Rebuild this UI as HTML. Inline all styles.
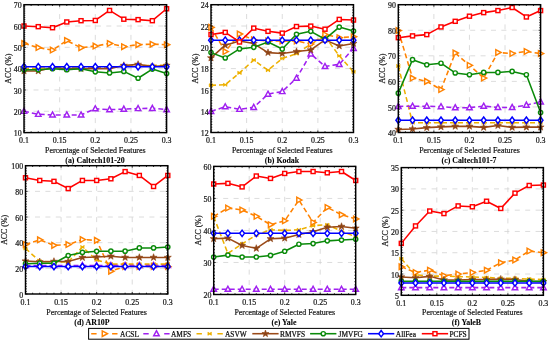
<!DOCTYPE html>
<html><head><meta charset="utf-8"><style>
html,body{margin:0;padding:0;background:#fff;width:550px;height:343px;overflow:hidden;}
svg{display:block;font-family:"Liberation Serif",serif;} text{stroke:#1a1a1a;stroke-width:0.22px;}
</style></head><body><div style="will-change:transform;width:550px;height:343px;filter:blur(0.3px)"><svg width="550" height="343" viewBox="0 0 550 343"><rect width="550" height="343" fill="#fff"/><g><line x1="59.65" y1="132.60" x2="59.65" y2="4.70" stroke="#d0d0d0" stroke-width="0.75" stroke-dasharray="5,5.4" stroke-dashoffset="0.9"/><line x1="95.30" y1="132.60" x2="95.30" y2="4.70" stroke="#d0d0d0" stroke-width="0.75" stroke-dasharray="5,5.4" stroke-dashoffset="0.9"/><line x1="130.95" y1="132.60" x2="130.95" y2="4.70" stroke="#d0d0d0" stroke-width="0.75" stroke-dasharray="5,5.4" stroke-dashoffset="0.9"/><line x1="24.00" y1="111.28" x2="166.60" y2="111.28" stroke="#d0d0d0" stroke-width="0.75" stroke-dasharray="5,5.4" stroke-dashoffset="0.9"/><line x1="24.00" y1="89.97" x2="166.60" y2="89.97" stroke="#d0d0d0" stroke-width="0.75" stroke-dasharray="5,5.4" stroke-dashoffset="0.9"/><line x1="24.00" y1="68.65" x2="166.60" y2="68.65" stroke="#d0d0d0" stroke-width="0.75" stroke-dasharray="5,5.4" stroke-dashoffset="0.9"/><line x1="24.00" y1="47.33" x2="166.60" y2="47.33" stroke="#d0d0d0" stroke-width="0.75" stroke-dasharray="5,5.4" stroke-dashoffset="0.9"/><line x1="24.00" y1="26.02" x2="166.60" y2="26.02" stroke="#d0d0d0" stroke-width="0.75" stroke-dasharray="5,5.4" stroke-dashoffset="0.9"/><polyline points="24.00,68.22 38.26,68.22 52.52,67.58 66.78,67.58 81.04,67.58 95.30,67.37 109.56,67.37 123.82,66.09 138.08,65.45 152.34,65.45 166.60,65.24" fill="none" stroke="#edb000" stroke-width="1.55" stroke-dasharray="5,3" stroke-linejoin="round"/><path d="M22.00,66.62L26.00,69.82M22.00,69.82L26.00,66.62M21.80,68.22L26.20,68.22" stroke="#edb000" stroke-width="1.1" fill="none"/><path d="M36.26,66.62L40.26,69.82M36.26,69.82L40.26,66.62M36.06,68.22L40.46,68.22" stroke="#edb000" stroke-width="1.1" fill="none"/><path d="M50.52,65.98L54.52,69.18M50.52,69.18L54.52,65.98M50.32,67.58L54.72,67.58" stroke="#edb000" stroke-width="1.1" fill="none"/><path d="M64.78,65.98L68.78,69.18M64.78,69.18L68.78,65.98M64.58,67.58L68.98,67.58" stroke="#edb000" stroke-width="1.1" fill="none"/><path d="M79.04,65.98L83.04,69.18M79.04,69.18L83.04,65.98M78.84,67.58L83.24,67.58" stroke="#edb000" stroke-width="1.1" fill="none"/><path d="M93.30,65.77L97.30,68.97M93.30,68.97L97.30,65.77M93.10,67.37L97.50,67.37" stroke="#edb000" stroke-width="1.1" fill="none"/><path d="M107.56,65.77L111.56,68.97M107.56,68.97L111.56,65.77M107.36,67.37L111.76,67.37" stroke="#edb000" stroke-width="1.1" fill="none"/><path d="M121.82,64.49L125.82,67.69M121.82,67.69L125.82,64.49M121.62,66.09L126.02,66.09" stroke="#edb000" stroke-width="1.1" fill="none"/><path d="M136.08,63.85L140.08,67.05M136.08,67.05L140.08,63.85M135.88,65.45L140.28,65.45" stroke="#edb000" stroke-width="1.1" fill="none"/><path d="M150.34,63.85L154.34,67.05M150.34,67.05L154.34,63.85M150.14,65.45L154.54,65.45" stroke="#edb000" stroke-width="1.1" fill="none"/><path d="M164.60,63.64L168.60,66.84M164.60,66.84L168.60,63.64M164.40,65.24L168.80,65.24" stroke="#edb000" stroke-width="1.1" fill="none"/><polyline points="24.00,111.28 38.26,114.27 52.52,114.91 66.78,114.91 81.04,114.91 95.30,108.73 109.56,109.58 123.82,109.15 138.08,108.51 152.34,108.30 166.60,109.58" fill="none" stroke="#a020f0" stroke-width="1.55" stroke-dasharray="5,3" stroke-linejoin="round"/><path d="M24.00,108.28L26.75,113.38L21.25,113.38Z" fill="#fff" stroke="#a020f0" stroke-width="1.45" stroke-linejoin="miter"/><path d="M38.26,111.27L41.01,116.37L35.51,116.37Z" fill="#fff" stroke="#a020f0" stroke-width="1.45" stroke-linejoin="miter"/><path d="M52.52,111.91L55.27,117.01L49.77,117.01Z" fill="#fff" stroke="#a020f0" stroke-width="1.45" stroke-linejoin="miter"/><path d="M66.78,111.91L69.53,117.01L64.03,117.01Z" fill="#fff" stroke="#a020f0" stroke-width="1.45" stroke-linejoin="miter"/><path d="M81.04,111.91L83.79,117.01L78.29,117.01Z" fill="#fff" stroke="#a020f0" stroke-width="1.45" stroke-linejoin="miter"/><path d="M95.30,105.73L98.05,110.83L92.55,110.83Z" fill="#fff" stroke="#a020f0" stroke-width="1.45" stroke-linejoin="miter"/><path d="M109.56,106.58L112.31,111.68L106.81,111.68Z" fill="#fff" stroke="#a020f0" stroke-width="1.45" stroke-linejoin="miter"/><path d="M123.82,106.15L126.57,111.25L121.07,111.25Z" fill="#fff" stroke="#a020f0" stroke-width="1.45" stroke-linejoin="miter"/><path d="M138.08,105.51L140.83,110.61L135.33,110.61Z" fill="#fff" stroke="#a020f0" stroke-width="1.45" stroke-linejoin="miter"/><path d="M152.34,105.30L155.09,110.40L149.59,110.40Z" fill="#fff" stroke="#a020f0" stroke-width="1.45" stroke-linejoin="miter"/><path d="M166.60,106.58L169.35,111.68L163.85,111.68Z" fill="#fff" stroke="#a020f0" stroke-width="1.45" stroke-linejoin="miter"/><polyline points="24.00,43.50 38.26,47.55 52.52,50.10 66.78,40.51 81.04,47.76 95.30,46.05 109.56,43.50 123.82,46.69 138.08,44.67 152.34,44.14 166.60,44.67" fill="none" stroke="#ff8200" stroke-width="1.55" stroke-dasharray="5,3" stroke-linejoin="round"/><path d="M27.10,43.50L21.90,40.70L21.90,46.30Z" fill="#fff" stroke="#ff8200" stroke-width="1.45"/><path d="M41.36,47.55L36.16,44.75L36.16,50.35Z" fill="#fff" stroke="#ff8200" stroke-width="1.45"/><path d="M55.62,50.10L50.42,47.30L50.42,52.90Z" fill="#fff" stroke="#ff8200" stroke-width="1.45"/><path d="M69.88,40.51L64.68,37.71L64.68,43.31Z" fill="#fff" stroke="#ff8200" stroke-width="1.45"/><path d="M84.14,47.76L78.94,44.96L78.94,50.56Z" fill="#fff" stroke="#ff8200" stroke-width="1.45"/><path d="M98.40,46.05L93.20,43.25L93.20,48.85Z" fill="#fff" stroke="#ff8200" stroke-width="1.45"/><path d="M112.66,43.50L107.46,40.70L107.46,46.30Z" fill="#fff" stroke="#ff8200" stroke-width="1.45"/><path d="M126.92,46.69L121.72,43.89L121.72,49.49Z" fill="#fff" stroke="#ff8200" stroke-width="1.45"/><path d="M141.18,44.67L135.98,41.87L135.98,47.47Z" fill="#fff" stroke="#ff8200" stroke-width="1.45"/><path d="M155.44,44.14L150.24,41.34L150.24,46.94Z" fill="#fff" stroke="#ff8200" stroke-width="1.45"/><path d="M169.70,44.67L164.50,41.87L164.50,47.47Z" fill="#fff" stroke="#ff8200" stroke-width="1.45"/><polyline points="24.00,70.99 38.26,70.99 52.52,67.58 66.78,68.65 81.04,68.65 95.30,68.65 109.56,68.65 123.82,65.45 138.08,64.39 152.34,66.52 166.60,65.45" fill="none" stroke="#9a4a18" stroke-width="1.55" stroke-linejoin="round"/><path d="M24.00,67.29L24.88,69.78L27.52,69.85L25.43,71.46L26.17,73.99L24.00,72.49L21.83,73.99L22.57,71.46L20.48,69.85L23.12,69.78Z" fill="#8e4416" stroke="#8e4416" stroke-width="0.6"/><path d="M38.26,67.29L39.14,69.78L41.78,69.85L39.69,71.46L40.43,73.99L38.26,72.49L36.09,73.99L36.83,71.46L34.74,69.85L37.38,69.78Z" fill="#8e4416" stroke="#8e4416" stroke-width="0.6"/><path d="M52.52,63.88L53.40,66.37L56.04,66.44L53.95,68.05L54.69,70.58L52.52,69.08L50.35,70.58L51.09,68.05L49.00,66.44L51.64,66.37Z" fill="#8e4416" stroke="#8e4416" stroke-width="0.6"/><path d="M66.78,64.95L67.66,67.44L70.30,67.51L68.21,69.11L68.95,71.64L66.78,70.15L64.61,71.64L65.35,69.11L63.26,67.51L65.90,67.44Z" fill="#8e4416" stroke="#8e4416" stroke-width="0.6"/><path d="M81.04,64.95L81.92,67.44L84.56,67.51L82.47,69.11L83.21,71.64L81.04,70.15L78.87,71.64L79.61,69.11L77.52,67.51L80.16,67.44Z" fill="#8e4416" stroke="#8e4416" stroke-width="0.6"/><path d="M95.30,64.95L96.18,67.44L98.82,67.51L96.73,69.11L97.47,71.64L95.30,70.15L93.13,71.64L93.87,69.11L91.78,67.51L94.42,67.44Z" fill="#8e4416" stroke="#8e4416" stroke-width="0.6"/><path d="M109.56,64.95L110.44,67.44L113.08,67.51L110.99,69.11L111.73,71.64L109.56,70.15L107.39,71.64L108.13,69.11L106.04,67.51L108.68,67.44Z" fill="#8e4416" stroke="#8e4416" stroke-width="0.6"/><path d="M123.82,61.75L124.70,64.24L127.34,64.31L125.25,65.92L125.99,68.45L123.82,66.95L121.65,68.45L122.39,65.92L120.30,64.31L122.94,64.24Z" fill="#8e4416" stroke="#8e4416" stroke-width="0.6"/><path d="M138.08,60.69L138.96,63.17L141.60,63.24L139.51,64.85L140.25,67.38L138.08,65.89L135.91,67.38L136.65,64.85L134.56,63.24L137.20,63.17Z" fill="#8e4416" stroke="#8e4416" stroke-width="0.6"/><path d="M152.34,62.82L153.22,65.30L155.86,65.37L153.77,66.98L154.51,69.51L152.34,68.02L150.17,69.51L150.91,66.98L148.82,65.37L151.46,65.30Z" fill="#8e4416" stroke="#8e4416" stroke-width="0.6"/><path d="M166.60,61.75L167.48,64.24L170.12,64.31L168.03,65.92L168.77,68.45L166.60,66.95L164.43,68.45L165.17,65.92L163.08,64.31L165.72,64.24Z" fill="#8e4416" stroke="#8e4416" stroke-width="0.6"/><polyline points="24.00,69.72 38.26,69.72 52.52,68.65 66.78,69.72 81.04,68.65 95.30,71.85 109.56,72.91 123.82,71.42 138.08,78.24 152.34,69.08 166.60,73.55" fill="none" stroke="#0a8a0a" stroke-width="1.55" stroke-linejoin="round"/><circle cx="24.00" cy="69.72" r="2.1" fill="#fff" stroke="#0a8a0a" stroke-width="1.45"/><circle cx="38.26" cy="69.72" r="2.1" fill="#fff" stroke="#0a8a0a" stroke-width="1.45"/><circle cx="52.52" cy="68.65" r="2.1" fill="#fff" stroke="#0a8a0a" stroke-width="1.45"/><circle cx="66.78" cy="69.72" r="2.1" fill="#fff" stroke="#0a8a0a" stroke-width="1.45"/><circle cx="81.04" cy="68.65" r="2.1" fill="#fff" stroke="#0a8a0a" stroke-width="1.45"/><circle cx="95.30" cy="71.85" r="2.1" fill="#fff" stroke="#0a8a0a" stroke-width="1.45"/><circle cx="109.56" cy="72.91" r="2.1" fill="#fff" stroke="#0a8a0a" stroke-width="1.45"/><circle cx="123.82" cy="71.42" r="2.1" fill="#fff" stroke="#0a8a0a" stroke-width="1.45"/><circle cx="138.08" cy="78.24" r="2.1" fill="#fff" stroke="#0a8a0a" stroke-width="1.45"/><circle cx="152.34" cy="69.08" r="2.1" fill="#fff" stroke="#0a8a0a" stroke-width="1.45"/><circle cx="166.60" cy="73.55" r="2.1" fill="#fff" stroke="#0a8a0a" stroke-width="1.45"/><polyline points="24.00,66.73 38.26,66.73 52.52,66.73 66.78,66.73 81.04,66.73 95.30,66.73 109.56,66.73 123.82,66.73 138.08,66.73 152.34,66.73 166.60,66.73" fill="none" stroke="#0000ff" stroke-width="1.55" stroke-linejoin="round"/><path d="M24.00,63.53L26.40,66.73L24.00,69.93L21.60,66.73Z" fill="#fff" stroke="#0000ff" stroke-width="1.45"/><path d="M38.26,63.53L40.66,66.73L38.26,69.93L35.86,66.73Z" fill="#fff" stroke="#0000ff" stroke-width="1.45"/><path d="M52.52,63.53L54.92,66.73L52.52,69.93L50.12,66.73Z" fill="#fff" stroke="#0000ff" stroke-width="1.45"/><path d="M66.78,63.53L69.18,66.73L66.78,69.93L64.38,66.73Z" fill="#fff" stroke="#0000ff" stroke-width="1.45"/><path d="M81.04,63.53L83.44,66.73L81.04,69.93L78.64,66.73Z" fill="#fff" stroke="#0000ff" stroke-width="1.45"/><path d="M95.30,63.53L97.70,66.73L95.30,69.93L92.90,66.73Z" fill="#fff" stroke="#0000ff" stroke-width="1.45"/><path d="M109.56,63.53L111.96,66.73L109.56,69.93L107.16,66.73Z" fill="#fff" stroke="#0000ff" stroke-width="1.45"/><path d="M123.82,63.53L126.22,66.73L123.82,69.93L121.42,66.73Z" fill="#fff" stroke="#0000ff" stroke-width="1.45"/><path d="M138.08,63.53L140.48,66.73L138.08,69.93L135.68,66.73Z" fill="#fff" stroke="#0000ff" stroke-width="1.45"/><path d="M152.34,63.53L154.74,66.73L152.34,69.93L149.94,66.73Z" fill="#fff" stroke="#0000ff" stroke-width="1.45"/><path d="M166.60,63.53L169.00,66.73L166.60,69.93L164.20,66.73Z" fill="#fff" stroke="#0000ff" stroke-width="1.45"/><polyline points="24.00,26.02 38.26,26.66 52.52,27.72 66.78,21.97 81.04,20.69 95.30,20.47 109.56,10.46 123.82,19.20 138.08,19.62 152.34,20.69 166.60,8.75" fill="none" stroke="#ff0000" stroke-width="1.55" stroke-linejoin="round"/><rect x="22.00" y="24.02" width="4.00" height="4.00" fill="#fff" stroke="#ff0000" stroke-width="1.45"/><rect x="36.26" y="24.66" width="4.00" height="4.00" fill="#fff" stroke="#ff0000" stroke-width="1.45"/><rect x="50.52" y="25.72" width="4.00" height="4.00" fill="#fff" stroke="#ff0000" stroke-width="1.45"/><rect x="64.78" y="19.97" width="4.00" height="4.00" fill="#fff" stroke="#ff0000" stroke-width="1.45"/><rect x="79.04" y="18.69" width="4.00" height="4.00" fill="#fff" stroke="#ff0000" stroke-width="1.45"/><rect x="93.30" y="18.47" width="4.00" height="4.00" fill="#fff" stroke="#ff0000" stroke-width="1.45"/><rect x="107.56" y="8.46" width="4.00" height="4.00" fill="#fff" stroke="#ff0000" stroke-width="1.45"/><rect x="121.82" y="17.20" width="4.00" height="4.00" fill="#fff" stroke="#ff0000" stroke-width="1.45"/><rect x="136.08" y="17.62" width="4.00" height="4.00" fill="#fff" stroke="#ff0000" stroke-width="1.45"/><rect x="150.34" y="18.69" width="4.00" height="4.00" fill="#fff" stroke="#ff0000" stroke-width="1.45"/><rect x="164.60" y="6.75" width="4.00" height="4.00" fill="#fff" stroke="#ff0000" stroke-width="1.45"/><rect x="24.00" y="4.70" width="142.60" height="127.90" fill="none" stroke="#000" stroke-width="1.45"/><path d="M24.00,132.60v-2.0M24.00,4.70v2.0M31.13,132.60v-1.3M31.13,4.70v1.3M38.26,132.60v-1.3M38.26,4.70v1.3M45.39,132.60v-1.3M45.39,4.70v1.3M52.52,132.60v-1.3M52.52,4.70v1.3M59.65,132.60v-2.0M59.65,4.70v2.0M66.78,132.60v-1.3M66.78,4.70v1.3M73.91,132.60v-1.3M73.91,4.70v1.3M81.04,132.60v-1.3M81.04,4.70v1.3M88.17,132.60v-1.3M88.17,4.70v1.3M95.30,132.60v-2.0M95.30,4.70v2.0M102.43,132.60v-1.3M102.43,4.70v1.3M109.56,132.60v-1.3M109.56,4.70v1.3M116.69,132.60v-1.3M116.69,4.70v1.3M123.82,132.60v-1.3M123.82,4.70v1.3M130.95,132.60v-2.0M130.95,4.70v2.0M138.08,132.60v-1.3M138.08,4.70v1.3M145.21,132.60v-1.3M145.21,4.70v1.3M152.34,132.60v-1.3M152.34,4.70v1.3M159.47,132.60v-1.3M159.47,4.70v1.3M166.60,132.60v-2.0M166.60,4.70v2.0M24.00,132.60h2.0M166.60,132.60h-2.0M24.00,130.47h1.3M166.60,130.47h-1.3M24.00,128.34h1.3M166.60,128.34h-1.3M24.00,126.20h1.3M166.60,126.20h-1.3M24.00,124.07h1.3M166.60,124.07h-1.3M24.00,121.94h1.3M166.60,121.94h-1.3M24.00,119.81h1.3M166.60,119.81h-1.3M24.00,117.68h1.3M166.60,117.68h-1.3M24.00,115.55h1.3M166.60,115.55h-1.3M24.00,113.41h1.3M166.60,113.41h-1.3M24.00,111.28h2.0M166.60,111.28h-2.0M24.00,109.15h1.3M166.60,109.15h-1.3M24.00,107.02h1.3M166.60,107.02h-1.3M24.00,104.89h1.3M166.60,104.89h-1.3M24.00,102.76h1.3M166.60,102.76h-1.3M24.00,100.62h1.3M166.60,100.62h-1.3M24.00,98.49h1.3M166.60,98.49h-1.3M24.00,96.36h1.3M166.60,96.36h-1.3M24.00,94.23h1.3M166.60,94.23h-1.3M24.00,92.10h1.3M166.60,92.10h-1.3M24.00,89.97h2.0M166.60,89.97h-2.0M24.00,87.84h1.3M166.60,87.84h-1.3M24.00,85.70h1.3M166.60,85.70h-1.3M24.00,83.57h1.3M166.60,83.57h-1.3M24.00,81.44h1.3M166.60,81.44h-1.3M24.00,79.31h1.3M166.60,79.31h-1.3M24.00,77.18h1.3M166.60,77.18h-1.3M24.00,75.05h1.3M166.60,75.05h-1.3M24.00,72.91h1.3M166.60,72.91h-1.3M24.00,70.78h1.3M166.60,70.78h-1.3M24.00,68.65h2.0M166.60,68.65h-2.0M24.00,66.52h1.3M166.60,66.52h-1.3M24.00,64.39h1.3M166.60,64.39h-1.3M24.00,62.25h1.3M166.60,62.25h-1.3M24.00,60.12h1.3M166.60,60.12h-1.3M24.00,57.99h1.3M166.60,57.99h-1.3M24.00,55.86h1.3M166.60,55.86h-1.3M24.00,53.73h1.3M166.60,53.73h-1.3M24.00,51.60h1.3M166.60,51.60h-1.3M24.00,49.47h1.3M166.60,49.47h-1.3M24.00,47.33h2.0M166.60,47.33h-2.0M24.00,45.20h1.3M166.60,45.20h-1.3M24.00,43.07h1.3M166.60,43.07h-1.3M24.00,40.94h1.3M166.60,40.94h-1.3M24.00,38.81h1.3M166.60,38.81h-1.3M24.00,36.67h1.3M166.60,36.67h-1.3M24.00,34.54h1.3M166.60,34.54h-1.3M24.00,32.41h1.3M166.60,32.41h-1.3M24.00,30.28h1.3M166.60,30.28h-1.3M24.00,28.15h1.3M166.60,28.15h-1.3M24.00,26.02h2.0M166.60,26.02h-2.0M24.00,23.89h1.3M166.60,23.89h-1.3M24.00,21.75h1.3M166.60,21.75h-1.3M24.00,19.62h1.3M166.60,19.62h-1.3M24.00,17.49h1.3M166.60,17.49h-1.3M24.00,15.36h1.3M166.60,15.36h-1.3M24.00,13.23h1.3M166.60,13.23h-1.3M24.00,11.10h1.3M166.60,11.10h-1.3M24.00,8.96h1.3M166.60,8.96h-1.3M24.00,6.83h1.3M166.60,6.83h-1.3M24.00,4.70h2.0M166.60,4.70h-2.0" stroke="#000" stroke-width="0.8" fill="none"/><text x="24.00" y="143.40" text-anchor="middle" font-size="7.9" fill="#1a1a1a" font-family="Liberation Serif, serif">0.1</text><text x="59.65" y="143.40" text-anchor="middle" font-size="7.9" fill="#1a1a1a" font-family="Liberation Serif, serif">0.15</text><text x="95.30" y="143.40" text-anchor="middle" font-size="7.9" fill="#1a1a1a" font-family="Liberation Serif, serif">0.2</text><text x="130.95" y="143.40" text-anchor="middle" font-size="7.9" fill="#1a1a1a" font-family="Liberation Serif, serif">0.25</text><text x="166.60" y="143.40" text-anchor="middle" font-size="7.9" fill="#1a1a1a" font-family="Liberation Serif, serif">0.3</text><text x="21.70" y="136.20" text-anchor="end" font-size="7.9" fill="#1a1a1a" font-family="Liberation Serif, serif">10</text><text x="21.70" y="114.88" text-anchor="end" font-size="7.9" fill="#1a1a1a" font-family="Liberation Serif, serif">20</text><text x="21.70" y="93.57" text-anchor="end" font-size="7.9" fill="#1a1a1a" font-family="Liberation Serif, serif">30</text><text x="21.70" y="72.25" text-anchor="end" font-size="7.9" fill="#1a1a1a" font-family="Liberation Serif, serif">40</text><text x="21.70" y="50.93" text-anchor="end" font-size="7.9" fill="#1a1a1a" font-family="Liberation Serif, serif">50</text><text x="21.70" y="29.62" text-anchor="end" font-size="7.9" fill="#1a1a1a" font-family="Liberation Serif, serif">60</text><text x="21.70" y="8.30" text-anchor="end" font-size="7.9" fill="#1a1a1a" font-family="Liberation Serif, serif">70</text><text x="95.30" y="153.00" text-anchor="middle" font-size="7.9" fill="#1a1a1a" font-family="Liberation Serif, serif">Percentage of Selected Features</text><text x="95.00" y="162.90" text-anchor="middle" font-size="7.9" font-weight="bold" fill="#000" style="stroke-width:0.08px" font-family="Liberation Serif, serif">(a) Caltech101-20</text><text transform="translate(11.00,68.65) rotate(-90)" text-anchor="middle" font-size="7.9" fill="#1a1a1a" font-family="Liberation Serif, serif">ACC (%)</text></g><g><line x1="246.62" y1="132.50" x2="246.62" y2="4.70" stroke="#d0d0d0" stroke-width="0.75" stroke-dasharray="5,5.4" stroke-dashoffset="0.9"/><line x1="282.25" y1="132.50" x2="282.25" y2="4.70" stroke="#d0d0d0" stroke-width="0.75" stroke-dasharray="5,5.4" stroke-dashoffset="0.9"/><line x1="317.88" y1="132.50" x2="317.88" y2="4.70" stroke="#d0d0d0" stroke-width="0.75" stroke-dasharray="5,5.4" stroke-dashoffset="0.9"/><line x1="211.00" y1="111.20" x2="353.50" y2="111.20" stroke="#d0d0d0" stroke-width="0.75" stroke-dasharray="5,5.4" stroke-dashoffset="0.9"/><line x1="211.00" y1="89.90" x2="353.50" y2="89.90" stroke="#d0d0d0" stroke-width="0.75" stroke-dasharray="5,5.4" stroke-dashoffset="0.9"/><line x1="211.00" y1="68.60" x2="353.50" y2="68.60" stroke="#d0d0d0" stroke-width="0.75" stroke-dasharray="5,5.4" stroke-dashoffset="0.9"/><line x1="211.00" y1="47.30" x2="353.50" y2="47.30" stroke="#d0d0d0" stroke-width="0.75" stroke-dasharray="5,5.4" stroke-dashoffset="0.9"/><line x1="211.00" y1="26.00" x2="353.50" y2="26.00" stroke="#d0d0d0" stroke-width="0.75" stroke-dasharray="5,5.4" stroke-dashoffset="0.9"/><polyline points="211.00,85.32 225.25,84.79 239.50,72.86 253.75,60.08 268.00,70.20 282.25,58.48 296.50,53.69 310.75,44.10 325.00,36.65 339.25,55.82 353.50,71.80" fill="none" stroke="#edb000" stroke-width="1.55" stroke-dasharray="5,3" stroke-linejoin="round"/><path d="M209.00,83.72L213.00,86.92M209.00,86.92L213.00,83.72M208.80,85.32L213.20,85.32" stroke="#edb000" stroke-width="1.1" fill="none"/><path d="M223.25,83.19L227.25,86.39M223.25,86.39L227.25,83.19M223.05,84.79L227.45,84.79" stroke="#edb000" stroke-width="1.1" fill="none"/><path d="M237.50,71.26L241.50,74.46M237.50,74.46L241.50,71.26M237.30,72.86L241.70,72.86" stroke="#edb000" stroke-width="1.1" fill="none"/><path d="M251.75,58.48L255.75,61.68M251.75,61.68L255.75,58.48M251.55,60.08L255.95,60.08" stroke="#edb000" stroke-width="1.1" fill="none"/><path d="M266.00,68.60L270.00,71.80M266.00,71.80L270.00,68.60M265.80,70.20L270.20,70.20" stroke="#edb000" stroke-width="1.1" fill="none"/><path d="M280.25,56.88L284.25,60.08M280.25,60.08L284.25,56.88M280.05,58.48L284.45,58.48" stroke="#edb000" stroke-width="1.1" fill="none"/><path d="M294.50,52.09L298.50,55.29M294.50,55.29L298.50,52.09M294.30,53.69L298.70,53.69" stroke="#edb000" stroke-width="1.1" fill="none"/><path d="M308.75,42.50L312.75,45.70M308.75,45.70L312.75,42.50M308.55,44.10L312.95,44.10" stroke="#edb000" stroke-width="1.1" fill="none"/><path d="M323.00,35.05L327.00,38.25M323.00,38.25L327.00,35.05M322.80,36.65L327.20,36.65" stroke="#edb000" stroke-width="1.1" fill="none"/><path d="M337.25,54.22L341.25,57.42M337.25,57.42L341.25,54.22M337.05,55.82L341.45,55.82" stroke="#edb000" stroke-width="1.1" fill="none"/><path d="M351.50,70.20L355.50,73.40M351.50,73.40L355.50,70.20M351.30,71.80L355.70,71.80" stroke="#edb000" stroke-width="1.1" fill="none"/><polyline points="211.00,111.41 225.25,106.73 239.50,109.28 253.75,107.37 268.00,94.16 282.25,91.50 296.50,78.18 310.75,53.90 325.00,66.47 339.25,64.34 353.50,48.37" fill="none" stroke="#a020f0" stroke-width="1.55" stroke-dasharray="5,3" stroke-linejoin="round"/><path d="M211.00,108.41L213.75,113.51L208.25,113.51Z" fill="#fff" stroke="#a020f0" stroke-width="1.45" stroke-linejoin="miter"/><path d="M225.25,103.73L228.00,108.83L222.50,108.83Z" fill="#fff" stroke="#a020f0" stroke-width="1.45" stroke-linejoin="miter"/><path d="M239.50,106.28L242.25,111.38L236.75,111.38Z" fill="#fff" stroke="#a020f0" stroke-width="1.45" stroke-linejoin="miter"/><path d="M253.75,104.37L256.50,109.47L251.00,109.47Z" fill="#fff" stroke="#a020f0" stroke-width="1.45" stroke-linejoin="miter"/><path d="M268.00,91.16L270.75,96.26L265.25,96.26Z" fill="#fff" stroke="#a020f0" stroke-width="1.45" stroke-linejoin="miter"/><path d="M282.25,88.50L285.00,93.60L279.50,93.60Z" fill="#fff" stroke="#a020f0" stroke-width="1.45" stroke-linejoin="miter"/><path d="M296.50,75.18L299.25,80.28L293.75,80.28Z" fill="#fff" stroke="#a020f0" stroke-width="1.45" stroke-linejoin="miter"/><path d="M310.75,50.90L313.50,56.00L308.00,56.00Z" fill="#fff" stroke="#a020f0" stroke-width="1.45" stroke-linejoin="miter"/><path d="M325.00,63.47L327.75,68.57L322.25,68.57Z" fill="#fff" stroke="#a020f0" stroke-width="1.45" stroke-linejoin="miter"/><path d="M339.25,61.34L342.00,66.44L336.50,66.44Z" fill="#fff" stroke="#a020f0" stroke-width="1.45" stroke-linejoin="miter"/><path d="M353.50,45.37L356.25,50.47L350.75,50.47Z" fill="#fff" stroke="#a020f0" stroke-width="1.45" stroke-linejoin="miter"/><polyline points="211.00,27.38 225.25,51.56 239.50,33.99 253.75,39.84 268.00,40.91 282.25,40.91 296.50,40.91 310.75,44.10 325.00,34.52 339.25,37.72 353.50,36.65" fill="none" stroke="#ff8200" stroke-width="1.55" stroke-dasharray="5,3" stroke-linejoin="round"/><path d="M214.10,27.38L208.90,24.58L208.90,30.18Z" fill="#fff" stroke="#ff8200" stroke-width="1.45"/><path d="M228.35,51.56L223.15,48.76L223.15,54.36Z" fill="#fff" stroke="#ff8200" stroke-width="1.45"/><path d="M242.60,33.99L237.40,31.19L237.40,36.79Z" fill="#fff" stroke="#ff8200" stroke-width="1.45"/><path d="M256.85,39.84L251.65,37.05L251.65,42.64Z" fill="#fff" stroke="#ff8200" stroke-width="1.45"/><path d="M271.10,40.91L265.90,38.11L265.90,43.71Z" fill="#fff" stroke="#ff8200" stroke-width="1.45"/><path d="M285.35,40.91L280.15,38.11L280.15,43.71Z" fill="#fff" stroke="#ff8200" stroke-width="1.45"/><path d="M299.60,40.91L294.40,38.11L294.40,43.71Z" fill="#fff" stroke="#ff8200" stroke-width="1.45"/><path d="M313.85,44.10L308.65,41.30L308.65,46.90Z" fill="#fff" stroke="#ff8200" stroke-width="1.45"/><path d="M328.10,34.52L322.90,31.72L322.90,37.32Z" fill="#fff" stroke="#ff8200" stroke-width="1.45"/><path d="M342.35,37.72L337.15,34.92L337.15,40.52Z" fill="#fff" stroke="#ff8200" stroke-width="1.45"/><path d="M356.60,36.65L351.40,33.85L351.40,39.45Z" fill="#fff" stroke="#ff8200" stroke-width="1.45"/><polyline points="211.00,57.95 225.25,45.17 239.50,40.91 253.75,43.57 268.00,52.62 282.25,53.48 296.50,51.56 310.75,49.96 325.00,39.84 339.25,45.92 353.50,43.47" fill="none" stroke="#9a4a18" stroke-width="1.55" stroke-linejoin="round"/><path d="M211.00,54.25L211.88,56.74L214.52,56.81L212.43,58.41L213.17,60.94L211.00,59.45L208.83,60.94L209.57,58.41L207.48,56.81L210.12,56.74Z" fill="#8e4416" stroke="#8e4416" stroke-width="0.6"/><path d="M225.25,41.47L226.13,43.96L228.77,44.03L226.68,45.63L227.42,48.16L225.25,46.67L223.08,48.16L223.82,45.63L221.73,44.03L224.37,43.96Z" fill="#8e4416" stroke="#8e4416" stroke-width="0.6"/><path d="M239.50,37.21L240.38,39.70L243.02,39.77L240.93,41.37L241.67,43.90L239.50,42.41L237.33,43.90L238.07,41.37L235.98,39.77L238.62,39.70Z" fill="#8e4416" stroke="#8e4416" stroke-width="0.6"/><path d="M253.75,39.87L254.63,42.36L257.27,42.43L255.18,44.04L255.92,46.57L253.75,45.07L251.58,46.57L252.32,44.04L250.23,42.43L252.87,42.36Z" fill="#8e4416" stroke="#8e4416" stroke-width="0.6"/><path d="M268.00,48.92L268.88,51.41L271.52,51.48L269.43,53.09L270.17,55.62L268.00,54.12L265.83,55.62L266.57,53.09L264.48,51.48L267.12,51.41Z" fill="#8e4416" stroke="#8e4416" stroke-width="0.6"/><path d="M282.25,49.78L283.13,52.26L285.77,52.33L283.68,53.94L284.42,56.47L282.25,54.98L280.08,56.47L280.82,53.94L278.73,52.33L281.37,52.26Z" fill="#8e4416" stroke="#8e4416" stroke-width="0.6"/><path d="M296.50,47.86L297.38,50.35L300.02,50.42L297.93,52.02L298.67,54.55L296.50,53.06L294.33,54.55L295.07,52.02L292.98,50.42L295.62,50.35Z" fill="#8e4416" stroke="#8e4416" stroke-width="0.6"/><path d="M310.75,46.26L311.63,48.75L314.27,48.82L312.18,50.43L312.92,52.96L310.75,51.46L308.58,52.96L309.32,50.43L307.23,48.82L309.87,48.75Z" fill="#8e4416" stroke="#8e4416" stroke-width="0.6"/><path d="M325.00,36.14L325.88,38.63L328.52,38.70L326.43,40.31L327.17,42.84L325.00,41.34L322.83,42.84L323.57,40.31L321.48,38.70L324.12,38.63Z" fill="#8e4416" stroke="#8e4416" stroke-width="0.6"/><path d="M339.25,42.22L340.13,44.70L342.77,44.77L340.68,46.38L341.42,48.91L339.25,47.42L337.08,48.91L337.82,46.38L335.73,44.77L338.37,44.70Z" fill="#8e4416" stroke="#8e4416" stroke-width="0.6"/><path d="M353.50,39.77L354.38,42.25L357.02,42.32L354.93,43.93L355.67,46.46L353.50,44.97L351.33,46.46L352.07,43.93L349.98,42.32L352.62,42.25Z" fill="#8e4416" stroke="#8e4416" stroke-width="0.6"/><polyline points="211.00,52.62 225.25,57.95 239.50,48.90 253.75,47.30 268.00,41.97 282.25,49.00 296.50,34.31 310.75,31.33 325.00,39.21 339.25,27.07 353.50,31.01" fill="none" stroke="#0a8a0a" stroke-width="1.55" stroke-linejoin="round"/><circle cx="211.00" cy="52.62" r="2.1" fill="#fff" stroke="#0a8a0a" stroke-width="1.45"/><circle cx="225.25" cy="57.95" r="2.1" fill="#fff" stroke="#0a8a0a" stroke-width="1.45"/><circle cx="239.50" cy="48.90" r="2.1" fill="#fff" stroke="#0a8a0a" stroke-width="1.45"/><circle cx="253.75" cy="47.30" r="2.1" fill="#fff" stroke="#0a8a0a" stroke-width="1.45"/><circle cx="268.00" cy="41.97" r="2.1" fill="#fff" stroke="#0a8a0a" stroke-width="1.45"/><circle cx="282.25" cy="49.00" r="2.1" fill="#fff" stroke="#0a8a0a" stroke-width="1.45"/><circle cx="296.50" cy="34.31" r="2.1" fill="#fff" stroke="#0a8a0a" stroke-width="1.45"/><circle cx="310.75" cy="31.33" r="2.1" fill="#fff" stroke="#0a8a0a" stroke-width="1.45"/><circle cx="325.00" cy="39.21" r="2.1" fill="#fff" stroke="#0a8a0a" stroke-width="1.45"/><circle cx="339.25" cy="27.07" r="2.1" fill="#fff" stroke="#0a8a0a" stroke-width="1.45"/><circle cx="353.50" cy="31.01" r="2.1" fill="#fff" stroke="#0a8a0a" stroke-width="1.45"/><polyline points="211.00,40.16 225.25,40.16 239.50,40.16 253.75,40.16 268.00,40.16 282.25,40.16 296.50,40.16 310.75,40.16 325.00,40.16 339.25,40.16 353.50,40.16" fill="none" stroke="#0000ff" stroke-width="1.55" stroke-linejoin="round"/><path d="M211.00,36.96L213.40,40.16L211.00,43.36L208.60,40.16Z" fill="#fff" stroke="#0000ff" stroke-width="1.45"/><path d="M225.25,36.96L227.65,40.16L225.25,43.36L222.85,40.16Z" fill="#fff" stroke="#0000ff" stroke-width="1.45"/><path d="M239.50,36.96L241.90,40.16L239.50,43.36L237.10,40.16Z" fill="#fff" stroke="#0000ff" stroke-width="1.45"/><path d="M253.75,36.96L256.15,40.16L253.75,43.36L251.35,40.16Z" fill="#fff" stroke="#0000ff" stroke-width="1.45"/><path d="M268.00,36.96L270.40,40.16L268.00,43.36L265.60,40.16Z" fill="#fff" stroke="#0000ff" stroke-width="1.45"/><path d="M282.25,36.96L284.65,40.16L282.25,43.36L279.85,40.16Z" fill="#fff" stroke="#0000ff" stroke-width="1.45"/><path d="M296.50,36.96L298.90,40.16L296.50,43.36L294.10,40.16Z" fill="#fff" stroke="#0000ff" stroke-width="1.45"/><path d="M310.75,36.96L313.15,40.16L310.75,43.36L308.35,40.16Z" fill="#fff" stroke="#0000ff" stroke-width="1.45"/><path d="M325.00,36.96L327.40,40.16L325.00,43.36L322.60,40.16Z" fill="#fff" stroke="#0000ff" stroke-width="1.45"/><path d="M339.25,36.96L341.65,40.16L339.25,43.36L336.85,40.16Z" fill="#fff" stroke="#0000ff" stroke-width="1.45"/><path d="M353.50,36.96L355.90,40.16L353.50,43.36L351.10,40.16Z" fill="#fff" stroke="#0000ff" stroke-width="1.45"/><polyline points="211.00,34.52 225.25,32.39 239.50,41.97 253.75,28.13 268.00,31.33 282.25,33.14 296.50,26.53 310.75,26.11 325.00,29.20 339.25,19.40 353.50,20.04" fill="none" stroke="#ff0000" stroke-width="1.55" stroke-linejoin="round"/><rect x="209.00" y="32.52" width="4.00" height="4.00" fill="#fff" stroke="#ff0000" stroke-width="1.45"/><rect x="223.25" y="30.39" width="4.00" height="4.00" fill="#fff" stroke="#ff0000" stroke-width="1.45"/><rect x="237.50" y="39.97" width="4.00" height="4.00" fill="#fff" stroke="#ff0000" stroke-width="1.45"/><rect x="251.75" y="26.13" width="4.00" height="4.00" fill="#fff" stroke="#ff0000" stroke-width="1.45"/><rect x="266.00" y="29.33" width="4.00" height="4.00" fill="#fff" stroke="#ff0000" stroke-width="1.45"/><rect x="280.25" y="31.14" width="4.00" height="4.00" fill="#fff" stroke="#ff0000" stroke-width="1.45"/><rect x="294.50" y="24.53" width="4.00" height="4.00" fill="#fff" stroke="#ff0000" stroke-width="1.45"/><rect x="308.75" y="24.11" width="4.00" height="4.00" fill="#fff" stroke="#ff0000" stroke-width="1.45"/><rect x="323.00" y="27.20" width="4.00" height="4.00" fill="#fff" stroke="#ff0000" stroke-width="1.45"/><rect x="337.25" y="17.40" width="4.00" height="4.00" fill="#fff" stroke="#ff0000" stroke-width="1.45"/><rect x="351.50" y="18.04" width="4.00" height="4.00" fill="#fff" stroke="#ff0000" stroke-width="1.45"/><rect x="211.00" y="4.70" width="142.50" height="127.80" fill="none" stroke="#000" stroke-width="1.45"/><path d="M211.00,132.50v-2.0M211.00,4.70v2.0M218.12,132.50v-1.3M218.12,4.70v1.3M225.25,132.50v-1.3M225.25,4.70v1.3M232.38,132.50v-1.3M232.38,4.70v1.3M239.50,132.50v-1.3M239.50,4.70v1.3M246.62,132.50v-2.0M246.62,4.70v2.0M253.75,132.50v-1.3M253.75,4.70v1.3M260.88,132.50v-1.3M260.88,4.70v1.3M268.00,132.50v-1.3M268.00,4.70v1.3M275.12,132.50v-1.3M275.12,4.70v1.3M282.25,132.50v-2.0M282.25,4.70v2.0M289.38,132.50v-1.3M289.38,4.70v1.3M296.50,132.50v-1.3M296.50,4.70v1.3M303.62,132.50v-1.3M303.62,4.70v1.3M310.75,132.50v-1.3M310.75,4.70v1.3M317.88,132.50v-2.0M317.88,4.70v2.0M325.00,132.50v-1.3M325.00,4.70v1.3M332.12,132.50v-1.3M332.12,4.70v1.3M339.25,132.50v-1.3M339.25,4.70v1.3M346.38,132.50v-1.3M346.38,4.70v1.3M353.50,132.50v-2.0M353.50,4.70v2.0M211.00,132.50h2.0M353.50,132.50h-2.0M211.00,129.84h1.3M353.50,129.84h-1.3M211.00,127.17h1.3M353.50,127.17h-1.3M211.00,124.51h1.3M353.50,124.51h-1.3M211.00,121.85h1.3M353.50,121.85h-1.3M211.00,119.19h1.3M353.50,119.19h-1.3M211.00,116.53h1.3M353.50,116.53h-1.3M211.00,113.86h1.3M353.50,113.86h-1.3M211.00,111.20h2.0M353.50,111.20h-2.0M211.00,108.54h1.3M353.50,108.54h-1.3M211.00,105.88h1.3M353.50,105.88h-1.3M211.00,103.21h1.3M353.50,103.21h-1.3M211.00,100.55h1.3M353.50,100.55h-1.3M211.00,97.89h1.3M353.50,97.89h-1.3M211.00,95.22h1.3M353.50,95.22h-1.3M211.00,92.56h1.3M353.50,92.56h-1.3M211.00,89.90h2.0M353.50,89.90h-2.0M211.00,87.24h1.3M353.50,87.24h-1.3M211.00,84.57h1.3M353.50,84.57h-1.3M211.00,81.91h1.3M353.50,81.91h-1.3M211.00,79.25h1.3M353.50,79.25h-1.3M211.00,76.59h1.3M353.50,76.59h-1.3M211.00,73.93h1.3M353.50,73.93h-1.3M211.00,71.26h1.3M353.50,71.26h-1.3M211.00,68.60h2.0M353.50,68.60h-2.0M211.00,65.94h1.3M353.50,65.94h-1.3M211.00,63.28h1.3M353.50,63.28h-1.3M211.00,60.61h1.3M353.50,60.61h-1.3M211.00,57.95h1.3M353.50,57.95h-1.3M211.00,55.29h1.3M353.50,55.29h-1.3M211.00,52.62h1.3M353.50,52.62h-1.3M211.00,49.96h1.3M353.50,49.96h-1.3M211.00,47.30h2.0M353.50,47.30h-2.0M211.00,44.64h1.3M353.50,44.64h-1.3M211.00,41.98h1.3M353.50,41.98h-1.3M211.00,39.31h1.3M353.50,39.31h-1.3M211.00,36.65h1.3M353.50,36.65h-1.3M211.00,33.99h1.3M353.50,33.99h-1.3M211.00,31.33h1.3M353.50,31.33h-1.3M211.00,28.66h1.3M353.50,28.66h-1.3M211.00,26.00h2.0M353.50,26.00h-2.0M211.00,23.34h1.3M353.50,23.34h-1.3M211.00,20.68h1.3M353.50,20.68h-1.3M211.00,18.01h1.3M353.50,18.01h-1.3M211.00,15.35h1.3M353.50,15.35h-1.3M211.00,12.69h1.3M353.50,12.69h-1.3M211.00,10.02h1.3M353.50,10.02h-1.3M211.00,7.36h1.3M353.50,7.36h-1.3M211.00,4.70h2.0M353.50,4.70h-2.0" stroke="#000" stroke-width="0.8" fill="none"/><text x="211.00" y="143.30" text-anchor="middle" font-size="7.9" fill="#1a1a1a" font-family="Liberation Serif, serif">0.1</text><text x="246.62" y="143.30" text-anchor="middle" font-size="7.9" fill="#1a1a1a" font-family="Liberation Serif, serif">0.15</text><text x="282.25" y="143.30" text-anchor="middle" font-size="7.9" fill="#1a1a1a" font-family="Liberation Serif, serif">0.2</text><text x="317.88" y="143.30" text-anchor="middle" font-size="7.9" fill="#1a1a1a" font-family="Liberation Serif, serif">0.25</text><text x="353.50" y="143.30" text-anchor="middle" font-size="7.9" fill="#1a1a1a" font-family="Liberation Serif, serif">0.3</text><text x="208.70" y="136.10" text-anchor="end" font-size="7.9" fill="#1a1a1a" font-family="Liberation Serif, serif">12</text><text x="208.70" y="114.80" text-anchor="end" font-size="7.9" fill="#1a1a1a" font-family="Liberation Serif, serif">14</text><text x="208.70" y="93.50" text-anchor="end" font-size="7.9" fill="#1a1a1a" font-family="Liberation Serif, serif">16</text><text x="208.70" y="72.20" text-anchor="end" font-size="7.9" fill="#1a1a1a" font-family="Liberation Serif, serif">18</text><text x="208.70" y="50.90" text-anchor="end" font-size="7.9" fill="#1a1a1a" font-family="Liberation Serif, serif">20</text><text x="208.70" y="29.60" text-anchor="end" font-size="7.9" fill="#1a1a1a" font-family="Liberation Serif, serif">22</text><text x="208.70" y="8.30" text-anchor="end" font-size="7.9" fill="#1a1a1a" font-family="Liberation Serif, serif">24</text><text x="282.25" y="153.00" text-anchor="middle" font-size="7.9" fill="#1a1a1a" font-family="Liberation Serif, serif">Percentage of Selected Features</text><text x="282.00" y="162.90" text-anchor="middle" font-size="7.9" font-weight="bold" fill="#000" style="stroke-width:0.08px" font-family="Liberation Serif, serif">(b) Kodak</text><text transform="translate(198.00,68.60) rotate(-90)" text-anchor="middle" font-size="7.9" fill="#1a1a1a" font-family="Liberation Serif, serif">ACC (%)</text></g><g><line x1="433.88" y1="132.50" x2="433.88" y2="4.70" stroke="#d0d0d0" stroke-width="0.75" stroke-dasharray="5,5.4" stroke-dashoffset="0.9"/><line x1="469.45" y1="132.50" x2="469.45" y2="4.70" stroke="#d0d0d0" stroke-width="0.75" stroke-dasharray="5,5.4" stroke-dashoffset="0.9"/><line x1="505.02" y1="132.50" x2="505.02" y2="4.70" stroke="#d0d0d0" stroke-width="0.75" stroke-dasharray="5,5.4" stroke-dashoffset="0.9"/><line x1="398.30" y1="106.94" x2="540.60" y2="106.94" stroke="#d0d0d0" stroke-width="0.75" stroke-dasharray="5,5.4" stroke-dashoffset="0.9"/><line x1="398.30" y1="81.38" x2="540.60" y2="81.38" stroke="#d0d0d0" stroke-width="0.75" stroke-dasharray="5,5.4" stroke-dashoffset="0.9"/><line x1="398.30" y1="55.82" x2="540.60" y2="55.82" stroke="#d0d0d0" stroke-width="0.75" stroke-dasharray="5,5.4" stroke-dashoffset="0.9"/><line x1="398.30" y1="30.26" x2="540.60" y2="30.26" stroke="#d0d0d0" stroke-width="0.75" stroke-dasharray="5,5.4" stroke-dashoffset="0.9"/><polyline points="398.30,66.04 412.53,122.79 426.76,122.79 440.99,122.79 455.22,122.79 469.45,122.79 483.68,122.79 497.91,122.79 512.14,122.79 526.37,122.79 540.60,122.79" fill="none" stroke="#edb000" stroke-width="1.55" stroke-dasharray="5,3" stroke-linejoin="round"/><path d="M396.30,64.44L400.30,67.64M396.30,67.64L400.30,64.44M396.10,66.04L400.50,66.04" stroke="#edb000" stroke-width="1.1" fill="none"/><path d="M410.53,121.19L414.53,124.39M410.53,124.39L414.53,121.19M410.33,122.79L414.73,122.79" stroke="#edb000" stroke-width="1.1" fill="none"/><path d="M424.76,121.19L428.76,124.39M424.76,124.39L428.76,121.19M424.56,122.79L428.96,122.79" stroke="#edb000" stroke-width="1.1" fill="none"/><path d="M438.99,121.19L442.99,124.39M438.99,124.39L442.99,121.19M438.79,122.79L443.19,122.79" stroke="#edb000" stroke-width="1.1" fill="none"/><path d="M453.22,121.19L457.22,124.39M453.22,124.39L457.22,121.19M453.02,122.79L457.42,122.79" stroke="#edb000" stroke-width="1.1" fill="none"/><path d="M467.45,121.19L471.45,124.39M467.45,124.39L471.45,121.19M467.25,122.79L471.65,122.79" stroke="#edb000" stroke-width="1.1" fill="none"/><path d="M481.68,121.19L485.68,124.39M481.68,124.39L485.68,121.19M481.48,122.79L485.88,122.79" stroke="#edb000" stroke-width="1.1" fill="none"/><path d="M495.91,121.19L499.91,124.39M495.91,124.39L499.91,121.19M495.71,122.79L500.11,122.79" stroke="#edb000" stroke-width="1.1" fill="none"/><path d="M510.14,121.19L514.14,124.39M510.14,124.39L514.14,121.19M509.94,122.79L514.34,122.79" stroke="#edb000" stroke-width="1.1" fill="none"/><path d="M524.37,121.19L528.37,124.39M524.37,124.39L528.37,121.19M524.17,122.79L528.57,122.79" stroke="#edb000" stroke-width="1.1" fill="none"/><path d="M538.60,121.19L542.60,124.39M538.60,124.39L542.60,121.19M538.40,122.79L542.80,122.79" stroke="#edb000" stroke-width="1.1" fill="none"/><polyline points="398.30,106.43 412.53,106.17 426.76,106.17 440.99,106.68 455.22,107.71 469.45,107.71 483.68,106.17 497.91,107.45 512.14,107.45 526.37,105.15 540.60,101.83" fill="none" stroke="#a020f0" stroke-width="1.55" stroke-dasharray="5,3" stroke-linejoin="round"/><path d="M398.30,103.43L401.05,108.53L395.55,108.53Z" fill="#fff" stroke="#a020f0" stroke-width="1.45" stroke-linejoin="miter"/><path d="M412.53,103.17L415.28,108.27L409.78,108.27Z" fill="#fff" stroke="#a020f0" stroke-width="1.45" stroke-linejoin="miter"/><path d="M426.76,103.17L429.51,108.27L424.01,108.27Z" fill="#fff" stroke="#a020f0" stroke-width="1.45" stroke-linejoin="miter"/><path d="M440.99,103.68L443.74,108.78L438.24,108.78Z" fill="#fff" stroke="#a020f0" stroke-width="1.45" stroke-linejoin="miter"/><path d="M455.22,104.71L457.97,109.81L452.47,109.81Z" fill="#fff" stroke="#a020f0" stroke-width="1.45" stroke-linejoin="miter"/><path d="M469.45,104.71L472.20,109.81L466.70,109.81Z" fill="#fff" stroke="#a020f0" stroke-width="1.45" stroke-linejoin="miter"/><path d="M483.68,103.17L486.43,108.27L480.93,108.27Z" fill="#fff" stroke="#a020f0" stroke-width="1.45" stroke-linejoin="miter"/><path d="M497.91,104.45L500.66,109.55L495.16,109.55Z" fill="#fff" stroke="#a020f0" stroke-width="1.45" stroke-linejoin="miter"/><path d="M512.14,104.45L514.89,109.55L509.39,109.55Z" fill="#fff" stroke="#a020f0" stroke-width="1.45" stroke-linejoin="miter"/><path d="M526.37,102.15L529.12,107.25L523.62,107.25Z" fill="#fff" stroke="#a020f0" stroke-width="1.45" stroke-linejoin="miter"/><path d="M540.60,98.83L543.35,103.93L537.85,103.93Z" fill="#fff" stroke="#a020f0" stroke-width="1.45" stroke-linejoin="miter"/><polyline points="398.30,30.52 412.53,78.06 426.76,81.38 440.99,89.56 455.22,53.01 469.45,65.28 483.68,78.06 497.91,52.50 512.14,53.52 526.37,51.47 540.60,53.52" fill="none" stroke="#ff8200" stroke-width="1.55" stroke-dasharray="5,3" stroke-linejoin="round"/><path d="M401.40,30.52L396.20,27.72L396.20,33.32Z" fill="#fff" stroke="#ff8200" stroke-width="1.45"/><path d="M415.63,78.06L410.43,75.26L410.43,80.86Z" fill="#fff" stroke="#ff8200" stroke-width="1.45"/><path d="M429.86,81.38L424.66,78.58L424.66,84.18Z" fill="#fff" stroke="#ff8200" stroke-width="1.45"/><path d="M444.09,89.56L438.89,86.76L438.89,92.36Z" fill="#fff" stroke="#ff8200" stroke-width="1.45"/><path d="M458.32,53.01L453.12,50.21L453.12,55.81Z" fill="#fff" stroke="#ff8200" stroke-width="1.45"/><path d="M472.55,65.28L467.35,62.48L467.35,68.08Z" fill="#fff" stroke="#ff8200" stroke-width="1.45"/><path d="M486.78,78.06L481.58,75.26L481.58,80.86Z" fill="#fff" stroke="#ff8200" stroke-width="1.45"/><path d="M501.01,52.50L495.81,49.70L495.81,55.30Z" fill="#fff" stroke="#ff8200" stroke-width="1.45"/><path d="M515.24,53.52L510.04,50.72L510.04,56.32Z" fill="#fff" stroke="#ff8200" stroke-width="1.45"/><path d="M529.47,51.47L524.27,48.67L524.27,54.27Z" fill="#fff" stroke="#ff8200" stroke-width="1.45"/><path d="M543.70,53.52L538.50,50.72L538.50,56.32Z" fill="#fff" stroke="#ff8200" stroke-width="1.45"/><polyline points="398.30,129.43 412.53,128.92 426.76,127.64 440.99,126.88 455.22,126.37 469.45,126.37 483.68,127.39 497.91,125.60 512.14,127.39 526.37,127.13 540.60,127.13" fill="none" stroke="#9a4a18" stroke-width="1.55" stroke-linejoin="round"/><path d="M398.30,125.73L399.18,128.22L401.82,128.29L399.73,129.90L400.47,132.43L398.30,130.93L396.13,132.43L396.87,129.90L394.78,128.29L397.42,128.22Z" fill="#8e4416" stroke="#8e4416" stroke-width="0.6"/><path d="M412.53,125.22L413.41,127.71L416.05,127.78L413.96,129.39L414.70,131.91L412.53,130.42L410.36,131.91L411.10,129.39L409.01,127.78L411.65,127.71Z" fill="#8e4416" stroke="#8e4416" stroke-width="0.6"/><path d="M426.76,123.94L427.64,126.43L430.28,126.50L428.19,128.11L428.93,130.64L426.76,129.14L424.59,130.64L425.33,128.11L423.24,126.50L425.88,126.43Z" fill="#8e4416" stroke="#8e4416" stroke-width="0.6"/><path d="M440.99,123.18L441.87,125.66L444.51,125.73L442.42,127.34L443.16,129.87L440.99,128.38L438.82,129.87L439.56,127.34L437.47,125.73L440.11,125.66Z" fill="#8e4416" stroke="#8e4416" stroke-width="0.6"/><path d="M455.22,122.67L456.10,125.15L458.74,125.22L456.65,126.83L457.39,129.36L455.22,127.87L453.05,129.36L453.79,126.83L451.70,125.22L454.34,125.15Z" fill="#8e4416" stroke="#8e4416" stroke-width="0.6"/><path d="M469.45,122.67L470.33,125.15L472.97,125.22L470.88,126.83L471.62,129.36L469.45,127.87L467.28,129.36L468.02,126.83L465.93,125.22L468.57,125.15Z" fill="#8e4416" stroke="#8e4416" stroke-width="0.6"/><path d="M483.68,123.69L484.56,126.17L487.20,126.24L485.11,127.85L485.85,130.38L483.68,128.89L481.51,130.38L482.25,127.85L480.16,126.24L482.80,126.17Z" fill="#8e4416" stroke="#8e4416" stroke-width="0.6"/><path d="M497.91,121.90L498.79,124.39L501.43,124.46L499.34,126.06L500.08,128.59L497.91,127.10L495.74,128.59L496.48,126.06L494.39,124.46L497.03,124.39Z" fill="#8e4416" stroke="#8e4416" stroke-width="0.6"/><path d="M512.14,123.69L513.02,126.17L515.66,126.24L513.57,127.85L514.31,130.38L512.14,128.89L509.97,130.38L510.71,127.85L508.62,126.24L511.26,126.17Z" fill="#8e4416" stroke="#8e4416" stroke-width="0.6"/><path d="M526.37,123.43L527.25,125.92L529.89,125.99L527.80,127.60L528.54,130.13L526.37,128.63L524.20,130.13L524.94,127.60L522.85,125.99L525.49,125.92Z" fill="#8e4416" stroke="#8e4416" stroke-width="0.6"/><path d="M540.60,123.43L541.48,125.92L544.12,125.99L542.03,127.60L542.77,130.13L540.60,128.63L538.43,130.13L539.17,127.60L537.08,125.99L539.72,125.92Z" fill="#8e4416" stroke="#8e4416" stroke-width="0.6"/><polyline points="398.30,93.14 412.53,59.65 426.76,64.77 440.99,63.23 455.22,72.95 469.45,74.73 483.68,72.43 497.91,72.43 512.14,71.41 526.37,74.73 540.60,112.56" fill="none" stroke="#0a8a0a" stroke-width="1.55" stroke-linejoin="round"/><circle cx="398.30" cy="93.14" r="2.1" fill="#fff" stroke="#0a8a0a" stroke-width="1.45"/><circle cx="412.53" cy="59.65" r="2.1" fill="#fff" stroke="#0a8a0a" stroke-width="1.45"/><circle cx="426.76" cy="64.77" r="2.1" fill="#fff" stroke="#0a8a0a" stroke-width="1.45"/><circle cx="440.99" cy="63.23" r="2.1" fill="#fff" stroke="#0a8a0a" stroke-width="1.45"/><circle cx="455.22" cy="72.95" r="2.1" fill="#fff" stroke="#0a8a0a" stroke-width="1.45"/><circle cx="469.45" cy="74.73" r="2.1" fill="#fff" stroke="#0a8a0a" stroke-width="1.45"/><circle cx="483.68" cy="72.43" r="2.1" fill="#fff" stroke="#0a8a0a" stroke-width="1.45"/><circle cx="497.91" cy="72.43" r="2.1" fill="#fff" stroke="#0a8a0a" stroke-width="1.45"/><circle cx="512.14" cy="71.41" r="2.1" fill="#fff" stroke="#0a8a0a" stroke-width="1.45"/><circle cx="526.37" cy="74.73" r="2.1" fill="#fff" stroke="#0a8a0a" stroke-width="1.45"/><circle cx="540.60" cy="112.56" r="2.1" fill="#fff" stroke="#0a8a0a" stroke-width="1.45"/><polyline points="398.30,120.23 412.53,120.23 426.76,120.23 440.99,120.23 455.22,120.23 469.45,120.23 483.68,120.23 497.91,120.23 512.14,120.23 526.37,120.23 540.60,120.23" fill="none" stroke="#0000ff" stroke-width="1.55" stroke-linejoin="round"/><path d="M398.30,117.03L400.70,120.23L398.30,123.43L395.90,120.23Z" fill="#fff" stroke="#0000ff" stroke-width="1.45"/><path d="M412.53,117.03L414.93,120.23L412.53,123.43L410.13,120.23Z" fill="#fff" stroke="#0000ff" stroke-width="1.45"/><path d="M426.76,117.03L429.16,120.23L426.76,123.43L424.36,120.23Z" fill="#fff" stroke="#0000ff" stroke-width="1.45"/><path d="M440.99,117.03L443.39,120.23L440.99,123.43L438.59,120.23Z" fill="#fff" stroke="#0000ff" stroke-width="1.45"/><path d="M455.22,117.03L457.62,120.23L455.22,123.43L452.82,120.23Z" fill="#fff" stroke="#0000ff" stroke-width="1.45"/><path d="M469.45,117.03L471.85,120.23L469.45,123.43L467.05,120.23Z" fill="#fff" stroke="#0000ff" stroke-width="1.45"/><path d="M483.68,117.03L486.08,120.23L483.68,123.43L481.28,120.23Z" fill="#fff" stroke="#0000ff" stroke-width="1.45"/><path d="M497.91,117.03L500.31,120.23L497.91,123.43L495.51,120.23Z" fill="#fff" stroke="#0000ff" stroke-width="1.45"/><path d="M512.14,117.03L514.54,120.23L512.14,123.43L509.74,120.23Z" fill="#fff" stroke="#0000ff" stroke-width="1.45"/><path d="M526.37,117.03L528.77,120.23L526.37,123.43L523.97,120.23Z" fill="#fff" stroke="#0000ff" stroke-width="1.45"/><path d="M540.60,117.03L543.00,120.23L540.60,123.43L538.20,120.23Z" fill="#fff" stroke="#0000ff" stroke-width="1.45"/><polyline points="398.30,37.67 412.53,35.88 426.76,34.61 440.99,26.94 455.22,21.31 469.45,16.20 483.68,12.62 497.91,10.58 512.14,7.51 526.37,16.97 540.60,10.58" fill="none" stroke="#ff0000" stroke-width="1.55" stroke-linejoin="round"/><rect x="396.30" y="35.67" width="4.00" height="4.00" fill="#fff" stroke="#ff0000" stroke-width="1.45"/><rect x="410.53" y="33.88" width="4.00" height="4.00" fill="#fff" stroke="#ff0000" stroke-width="1.45"/><rect x="424.76" y="32.61" width="4.00" height="4.00" fill="#fff" stroke="#ff0000" stroke-width="1.45"/><rect x="438.99" y="24.94" width="4.00" height="4.00" fill="#fff" stroke="#ff0000" stroke-width="1.45"/><rect x="453.22" y="19.31" width="4.00" height="4.00" fill="#fff" stroke="#ff0000" stroke-width="1.45"/><rect x="467.45" y="14.20" width="4.00" height="4.00" fill="#fff" stroke="#ff0000" stroke-width="1.45"/><rect x="481.68" y="10.62" width="4.00" height="4.00" fill="#fff" stroke="#ff0000" stroke-width="1.45"/><rect x="495.91" y="8.58" width="4.00" height="4.00" fill="#fff" stroke="#ff0000" stroke-width="1.45"/><rect x="510.14" y="5.51" width="4.00" height="4.00" fill="#fff" stroke="#ff0000" stroke-width="1.45"/><rect x="524.37" y="14.97" width="4.00" height="4.00" fill="#fff" stroke="#ff0000" stroke-width="1.45"/><rect x="538.60" y="8.58" width="4.00" height="4.00" fill="#fff" stroke="#ff0000" stroke-width="1.45"/><rect x="398.30" y="4.70" width="142.30" height="127.80" fill="none" stroke="#000" stroke-width="1.45"/><path d="M398.30,132.50v-2.0M398.30,4.70v2.0M405.42,132.50v-1.3M405.42,4.70v1.3M412.53,132.50v-1.3M412.53,4.70v1.3M419.65,132.50v-1.3M419.65,4.70v1.3M426.76,132.50v-1.3M426.76,4.70v1.3M433.88,132.50v-2.0M433.88,4.70v2.0M440.99,132.50v-1.3M440.99,4.70v1.3M448.11,132.50v-1.3M448.11,4.70v1.3M455.22,132.50v-1.3M455.22,4.70v1.3M462.34,132.50v-1.3M462.34,4.70v1.3M469.45,132.50v-2.0M469.45,4.70v2.0M476.57,132.50v-1.3M476.57,4.70v1.3M483.68,132.50v-1.3M483.68,4.70v1.3M490.80,132.50v-1.3M490.80,4.70v1.3M497.91,132.50v-1.3M497.91,4.70v1.3M505.02,132.50v-2.0M505.02,4.70v2.0M512.14,132.50v-1.3M512.14,4.70v1.3M519.25,132.50v-1.3M519.25,4.70v1.3M526.37,132.50v-1.3M526.37,4.70v1.3M533.49,132.50v-1.3M533.49,4.70v1.3M540.60,132.50v-2.0M540.60,4.70v2.0M398.30,132.50h2.0M540.60,132.50h-2.0M398.30,129.94h1.3M540.60,129.94h-1.3M398.30,127.39h1.3M540.60,127.39h-1.3M398.30,124.83h1.3M540.60,124.83h-1.3M398.30,122.28h1.3M540.60,122.28h-1.3M398.30,119.72h1.3M540.60,119.72h-1.3M398.30,117.16h1.3M540.60,117.16h-1.3M398.30,114.61h1.3M540.60,114.61h-1.3M398.30,112.05h1.3M540.60,112.05h-1.3M398.30,109.50h1.3M540.60,109.50h-1.3M398.30,106.94h2.0M540.60,106.94h-2.0M398.30,104.38h1.3M540.60,104.38h-1.3M398.30,101.83h1.3M540.60,101.83h-1.3M398.30,99.27h1.3M540.60,99.27h-1.3M398.30,96.72h1.3M540.60,96.72h-1.3M398.30,94.16h1.3M540.60,94.16h-1.3M398.30,91.60h1.3M540.60,91.60h-1.3M398.30,89.05h1.3M540.60,89.05h-1.3M398.30,86.49h1.3M540.60,86.49h-1.3M398.30,83.94h1.3M540.60,83.94h-1.3M398.30,81.38h2.0M540.60,81.38h-2.0M398.30,78.82h1.3M540.60,78.82h-1.3M398.30,76.27h1.3M540.60,76.27h-1.3M398.30,73.71h1.3M540.60,73.71h-1.3M398.30,71.16h1.3M540.60,71.16h-1.3M398.30,68.60h1.3M540.60,68.60h-1.3M398.30,66.04h1.3M540.60,66.04h-1.3M398.30,63.49h1.3M540.60,63.49h-1.3M398.30,60.93h1.3M540.60,60.93h-1.3M398.30,58.38h1.3M540.60,58.38h-1.3M398.30,55.82h2.0M540.60,55.82h-2.0M398.30,53.26h1.3M540.60,53.26h-1.3M398.30,50.71h1.3M540.60,50.71h-1.3M398.30,48.15h1.3M540.60,48.15h-1.3M398.30,45.60h1.3M540.60,45.60h-1.3M398.30,43.04h1.3M540.60,43.04h-1.3M398.30,40.48h1.3M540.60,40.48h-1.3M398.30,37.93h1.3M540.60,37.93h-1.3M398.30,35.37h1.3M540.60,35.37h-1.3M398.30,32.82h1.3M540.60,32.82h-1.3M398.30,30.26h2.0M540.60,30.26h-2.0M398.30,27.70h1.3M540.60,27.70h-1.3M398.30,25.15h1.3M540.60,25.15h-1.3M398.30,22.59h1.3M540.60,22.59h-1.3M398.30,20.04h1.3M540.60,20.04h-1.3M398.30,17.48h1.3M540.60,17.48h-1.3M398.30,14.92h1.3M540.60,14.92h-1.3M398.30,12.37h1.3M540.60,12.37h-1.3M398.30,9.81h1.3M540.60,9.81h-1.3M398.30,7.26h1.3M540.60,7.26h-1.3M398.30,4.70h2.0M540.60,4.70h-2.0" stroke="#000" stroke-width="0.8" fill="none"/><text x="398.30" y="143.30" text-anchor="middle" font-size="7.9" fill="#1a1a1a" font-family="Liberation Serif, serif">0.1</text><text x="433.88" y="143.30" text-anchor="middle" font-size="7.9" fill="#1a1a1a" font-family="Liberation Serif, serif">0.15</text><text x="469.45" y="143.30" text-anchor="middle" font-size="7.9" fill="#1a1a1a" font-family="Liberation Serif, serif">0.2</text><text x="505.02" y="143.30" text-anchor="middle" font-size="7.9" fill="#1a1a1a" font-family="Liberation Serif, serif">0.25</text><text x="540.60" y="143.30" text-anchor="middle" font-size="7.9" fill="#1a1a1a" font-family="Liberation Serif, serif">0.3</text><text x="396.00" y="136.10" text-anchor="end" font-size="7.9" fill="#1a1a1a" font-family="Liberation Serif, serif">40</text><text x="396.00" y="110.54" text-anchor="end" font-size="7.9" fill="#1a1a1a" font-family="Liberation Serif, serif">50</text><text x="396.00" y="84.98" text-anchor="end" font-size="7.9" fill="#1a1a1a" font-family="Liberation Serif, serif">60</text><text x="396.00" y="59.42" text-anchor="end" font-size="7.9" fill="#1a1a1a" font-family="Liberation Serif, serif">70</text><text x="396.00" y="33.86" text-anchor="end" font-size="7.9" fill="#1a1a1a" font-family="Liberation Serif, serif">80</text><text x="396.00" y="8.30" text-anchor="end" font-size="7.9" fill="#1a1a1a" font-family="Liberation Serif, serif">90</text><text x="469.45" y="153.00" text-anchor="middle" font-size="7.9" fill="#1a1a1a" font-family="Liberation Serif, serif">Percentage of Selected Features</text><text x="469.00" y="162.90" text-anchor="middle" font-size="7.9" font-weight="bold" fill="#000" style="stroke-width:0.08px" font-family="Liberation Serif, serif">(c) Caltech101-7</text><text transform="translate(385.30,68.60) rotate(-90)" text-anchor="middle" font-size="7.9" fill="#1a1a1a" font-family="Liberation Serif, serif">ACC (%)</text></g><g><line x1="61.07" y1="294.00" x2="61.07" y2="165.70" stroke="#d0d0d0" stroke-width="0.75" stroke-dasharray="5,5.4" stroke-dashoffset="0.9"/><line x1="96.65" y1="294.00" x2="96.65" y2="165.70" stroke="#d0d0d0" stroke-width="0.75" stroke-dasharray="5,5.4" stroke-dashoffset="0.9"/><line x1="132.22" y1="294.00" x2="132.22" y2="165.70" stroke="#d0d0d0" stroke-width="0.75" stroke-dasharray="5,5.4" stroke-dashoffset="0.9"/><line x1="25.50" y1="268.34" x2="167.80" y2="268.34" stroke="#d0d0d0" stroke-width="0.75" stroke-dasharray="5,5.4" stroke-dashoffset="0.9"/><line x1="25.50" y1="242.68" x2="167.80" y2="242.68" stroke="#d0d0d0" stroke-width="0.75" stroke-dasharray="5,5.4" stroke-dashoffset="0.9"/><line x1="25.50" y1="217.02" x2="167.80" y2="217.02" stroke="#d0d0d0" stroke-width="0.75" stroke-dasharray="5,5.4" stroke-dashoffset="0.9"/><line x1="25.50" y1="191.36" x2="167.80" y2="191.36" stroke="#d0d0d0" stroke-width="0.75" stroke-dasharray="5,5.4" stroke-dashoffset="0.9"/><polyline points="25.50,248.45 39.73,261.28 53.96,261.93 68.19,261.93 82.42,247.04 96.65,260.00 110.88,264.11 125.11,264.11 139.34,264.11 153.57,264.11 167.80,264.11" fill="none" stroke="#edb000" stroke-width="1.55" stroke-dasharray="5,3" stroke-linejoin="round"/><path d="M23.50,246.85L27.50,250.05M23.50,250.05L27.50,246.85M23.30,248.45L27.70,248.45" stroke="#edb000" stroke-width="1.1" fill="none"/><path d="M37.73,259.68L41.73,262.88M37.73,262.88L41.73,259.68M37.53,261.28L41.93,261.28" stroke="#edb000" stroke-width="1.1" fill="none"/><path d="M51.96,260.32L55.96,263.53M51.96,263.53L55.96,260.32M51.76,261.93L56.16,261.93" stroke="#edb000" stroke-width="1.1" fill="none"/><path d="M66.19,260.32L70.19,263.53M66.19,263.53L70.19,260.32M65.99,261.93L70.39,261.93" stroke="#edb000" stroke-width="1.1" fill="none"/><path d="M80.42,245.44L84.42,248.64M80.42,248.64L84.42,245.44M80.22,247.04L84.62,247.04" stroke="#edb000" stroke-width="1.1" fill="none"/><path d="M94.65,258.40L98.65,261.60M94.65,261.60L98.65,258.40M94.45,260.00L98.85,260.00" stroke="#edb000" stroke-width="1.1" fill="none"/><path d="M108.88,262.51L112.88,265.71M108.88,265.71L112.88,262.51M108.68,264.11L113.08,264.11" stroke="#edb000" stroke-width="1.1" fill="none"/><path d="M123.11,262.51L127.11,265.71M123.11,265.71L127.11,262.51M122.91,264.11L127.31,264.11" stroke="#edb000" stroke-width="1.1" fill="none"/><path d="M137.34,262.51L141.34,265.71M137.34,265.71L141.34,262.51M137.14,264.11L141.54,264.11" stroke="#edb000" stroke-width="1.1" fill="none"/><path d="M151.57,262.51L155.57,265.71M151.57,265.71L155.57,262.51M151.37,264.11L155.77,264.11" stroke="#edb000" stroke-width="1.1" fill="none"/><path d="M165.80,262.51L169.80,265.71M165.80,265.71L169.80,262.51M165.60,264.11L170.00,264.11" stroke="#edb000" stroke-width="1.1" fill="none"/><polyline points="25.50,265.52 39.73,265.52 53.96,265.52 68.19,265.52 82.42,265.52 96.65,265.52 110.88,265.52 125.11,265.52 139.34,265.52 153.57,265.52 167.80,265.52" fill="none" stroke="#a020f0" stroke-width="1.55" stroke-dasharray="5,3" stroke-linejoin="round"/><path d="M25.50,262.52L28.25,267.62L22.75,267.62Z" fill="#fff" stroke="#a020f0" stroke-width="1.45" stroke-linejoin="miter"/><path d="M39.73,262.52L42.48,267.62L36.98,267.62Z" fill="#fff" stroke="#a020f0" stroke-width="1.45" stroke-linejoin="miter"/><path d="M53.96,262.52L56.71,267.62L51.21,267.62Z" fill="#fff" stroke="#a020f0" stroke-width="1.45" stroke-linejoin="miter"/><path d="M68.19,262.52L70.94,267.62L65.44,267.62Z" fill="#fff" stroke="#a020f0" stroke-width="1.45" stroke-linejoin="miter"/><path d="M82.42,262.52L85.17,267.62L79.67,267.62Z" fill="#fff" stroke="#a020f0" stroke-width="1.45" stroke-linejoin="miter"/><path d="M96.65,262.52L99.40,267.62L93.90,267.62Z" fill="#fff" stroke="#a020f0" stroke-width="1.45" stroke-linejoin="miter"/><path d="M110.88,262.52L113.63,267.62L108.13,267.62Z" fill="#fff" stroke="#a020f0" stroke-width="1.45" stroke-linejoin="miter"/><path d="M125.11,262.52L127.86,267.62L122.36,267.62Z" fill="#fff" stroke="#a020f0" stroke-width="1.45" stroke-linejoin="miter"/><path d="M139.34,262.52L142.09,267.62L136.59,267.62Z" fill="#fff" stroke="#a020f0" stroke-width="1.45" stroke-linejoin="miter"/><path d="M153.57,262.52L156.32,267.62L150.82,267.62Z" fill="#fff" stroke="#a020f0" stroke-width="1.45" stroke-linejoin="miter"/><path d="M167.80,262.52L170.55,267.62L165.05,267.62Z" fill="#fff" stroke="#a020f0" stroke-width="1.45" stroke-linejoin="miter"/><polyline points="25.50,244.48 39.73,239.86 53.96,245.37 68.19,244.60 82.42,239.60 96.65,240.37 110.88,271.16 125.11,266.54 139.34,266.54 153.57,266.54 167.80,266.54" fill="none" stroke="#ff8200" stroke-width="1.55" stroke-dasharray="5,3" stroke-linejoin="round"/><path d="M28.60,244.48L23.40,241.68L23.40,247.28Z" fill="#fff" stroke="#ff8200" stroke-width="1.45"/><path d="M42.83,239.86L37.63,237.06L37.63,242.66Z" fill="#fff" stroke="#ff8200" stroke-width="1.45"/><path d="M57.06,245.37L51.86,242.57L51.86,248.17Z" fill="#fff" stroke="#ff8200" stroke-width="1.45"/><path d="M71.29,244.60L66.09,241.80L66.09,247.40Z" fill="#fff" stroke="#ff8200" stroke-width="1.45"/><path d="M85.52,239.60L80.32,236.80L80.32,242.40Z" fill="#fff" stroke="#ff8200" stroke-width="1.45"/><path d="M99.75,240.37L94.55,237.57L94.55,243.17Z" fill="#fff" stroke="#ff8200" stroke-width="1.45"/><path d="M113.98,271.16L108.78,268.36L108.78,273.96Z" fill="#fff" stroke="#ff8200" stroke-width="1.45"/><path d="M128.21,266.54L123.01,263.74L123.01,269.34Z" fill="#fff" stroke="#ff8200" stroke-width="1.45"/><path d="M142.44,266.54L137.24,263.74L137.24,269.34Z" fill="#fff" stroke="#ff8200" stroke-width="1.45"/><path d="M156.67,266.54L151.47,263.74L151.47,269.34Z" fill="#fff" stroke="#ff8200" stroke-width="1.45"/><path d="M170.90,266.54L165.70,263.74L165.70,269.34Z" fill="#fff" stroke="#ff8200" stroke-width="1.45"/><polyline points="25.50,261.03 39.73,261.80 53.96,261.41 68.19,261.54 82.42,257.56 96.65,257.05 110.88,256.28 125.11,257.43 139.34,257.43 153.57,257.43 167.80,257.43" fill="none" stroke="#9a4a18" stroke-width="1.55" stroke-linejoin="round"/><path d="M25.50,257.33L26.38,259.81L29.02,259.88L26.93,261.49L27.67,264.02L25.50,262.53L23.33,264.02L24.07,261.49L21.98,259.88L24.62,259.81Z" fill="#8e4416" stroke="#8e4416" stroke-width="0.6"/><path d="M39.73,258.10L40.61,260.58L43.25,260.65L41.16,262.26L41.90,264.79L39.73,263.30L37.56,264.79L38.30,262.26L36.21,260.65L38.85,260.58Z" fill="#8e4416" stroke="#8e4416" stroke-width="0.6"/><path d="M53.96,257.71L54.84,260.20L57.48,260.27L55.39,261.88L56.13,264.41L53.96,262.91L51.79,264.41L52.53,261.88L50.44,260.27L53.08,260.20Z" fill="#8e4416" stroke="#8e4416" stroke-width="0.6"/><path d="M68.19,257.84L69.07,260.33L71.71,260.40L69.62,262.00L70.36,264.53L68.19,263.04L66.02,264.53L66.76,262.00L64.67,260.40L67.31,260.33Z" fill="#8e4416" stroke="#8e4416" stroke-width="0.6"/><path d="M82.42,253.86L83.30,256.35L85.94,256.42L83.85,258.03L84.59,260.56L82.42,259.06L80.25,260.56L80.99,258.03L78.90,256.42L81.54,256.35Z" fill="#8e4416" stroke="#8e4416" stroke-width="0.6"/><path d="M96.65,253.35L97.53,255.84L100.17,255.91L98.08,257.51L98.82,260.04L96.65,258.55L94.48,260.04L95.22,257.51L93.13,255.91L95.77,255.84Z" fill="#8e4416" stroke="#8e4416" stroke-width="0.6"/><path d="M110.88,252.58L111.76,255.07L114.40,255.14L112.31,256.74L113.05,259.27L110.88,257.78L108.71,259.27L109.45,256.74L107.36,255.14L110.00,255.07Z" fill="#8e4416" stroke="#8e4416" stroke-width="0.6"/><path d="M125.11,253.73L125.99,256.22L128.63,256.29L126.54,257.90L127.28,260.43L125.11,258.93L122.94,260.43L123.68,257.90L121.59,256.29L124.23,256.22Z" fill="#8e4416" stroke="#8e4416" stroke-width="0.6"/><path d="M139.34,253.73L140.22,256.22L142.86,256.29L140.77,257.90L141.51,260.43L139.34,258.93L137.17,260.43L137.91,257.90L135.82,256.29L138.46,256.22Z" fill="#8e4416" stroke="#8e4416" stroke-width="0.6"/><path d="M153.57,253.73L154.45,256.22L157.09,256.29L155.00,257.90L155.74,260.43L153.57,258.93L151.40,260.43L152.14,257.90L150.05,256.29L152.69,256.22Z" fill="#8e4416" stroke="#8e4416" stroke-width="0.6"/><path d="M167.80,253.73L168.68,256.22L171.32,256.29L169.23,257.90L169.97,260.43L167.80,258.93L165.63,260.43L166.37,257.90L164.28,256.29L166.92,256.22Z" fill="#8e4416" stroke="#8e4416" stroke-width="0.6"/><polyline points="25.50,263.72 39.73,263.21 53.96,263.21 68.19,255.51 82.42,252.43 96.65,251.28 110.88,251.15 125.11,251.15 139.34,247.94 153.57,247.94 167.80,247.04" fill="none" stroke="#0a8a0a" stroke-width="1.55" stroke-linejoin="round"/><circle cx="25.50" cy="263.72" r="2.1" fill="#fff" stroke="#0a8a0a" stroke-width="1.45"/><circle cx="39.73" cy="263.21" r="2.1" fill="#fff" stroke="#0a8a0a" stroke-width="1.45"/><circle cx="53.96" cy="263.21" r="2.1" fill="#fff" stroke="#0a8a0a" stroke-width="1.45"/><circle cx="68.19" cy="255.51" r="2.1" fill="#fff" stroke="#0a8a0a" stroke-width="1.45"/><circle cx="82.42" cy="252.43" r="2.1" fill="#fff" stroke="#0a8a0a" stroke-width="1.45"/><circle cx="96.65" cy="251.28" r="2.1" fill="#fff" stroke="#0a8a0a" stroke-width="1.45"/><circle cx="110.88" cy="251.15" r="2.1" fill="#fff" stroke="#0a8a0a" stroke-width="1.45"/><circle cx="125.11" cy="251.15" r="2.1" fill="#fff" stroke="#0a8a0a" stroke-width="1.45"/><circle cx="139.34" cy="247.94" r="2.1" fill="#fff" stroke="#0a8a0a" stroke-width="1.45"/><circle cx="153.57" cy="247.94" r="2.1" fill="#fff" stroke="#0a8a0a" stroke-width="1.45"/><circle cx="167.80" cy="247.04" r="2.1" fill="#fff" stroke="#0a8a0a" stroke-width="1.45"/><polyline points="25.50,266.54 39.73,266.54 53.96,266.54 68.19,266.54 82.42,266.54 96.65,266.54 110.88,266.54 125.11,266.54 139.34,266.54 153.57,266.54 167.80,266.54" fill="none" stroke="#0000ff" stroke-width="1.55" stroke-linejoin="round"/><path d="M25.50,263.34L27.90,266.54L25.50,269.74L23.10,266.54Z" fill="#fff" stroke="#0000ff" stroke-width="1.45"/><path d="M39.73,263.34L42.13,266.54L39.73,269.74L37.33,266.54Z" fill="#fff" stroke="#0000ff" stroke-width="1.45"/><path d="M53.96,263.34L56.36,266.54L53.96,269.74L51.56,266.54Z" fill="#fff" stroke="#0000ff" stroke-width="1.45"/><path d="M68.19,263.34L70.59,266.54L68.19,269.74L65.79,266.54Z" fill="#fff" stroke="#0000ff" stroke-width="1.45"/><path d="M82.42,263.34L84.82,266.54L82.42,269.74L80.02,266.54Z" fill="#fff" stroke="#0000ff" stroke-width="1.45"/><path d="M96.65,263.34L99.05,266.54L96.65,269.74L94.25,266.54Z" fill="#fff" stroke="#0000ff" stroke-width="1.45"/><path d="M110.88,263.34L113.28,266.54L110.88,269.74L108.48,266.54Z" fill="#fff" stroke="#0000ff" stroke-width="1.45"/><path d="M125.11,263.34L127.51,266.54L125.11,269.74L122.71,266.54Z" fill="#fff" stroke="#0000ff" stroke-width="1.45"/><path d="M139.34,263.34L141.74,266.54L139.34,269.74L136.94,266.54Z" fill="#fff" stroke="#0000ff" stroke-width="1.45"/><path d="M153.57,263.34L155.97,266.54L153.57,269.74L151.17,266.54Z" fill="#fff" stroke="#0000ff" stroke-width="1.45"/><path d="M167.80,263.34L170.20,266.54L167.80,269.74L165.40,266.54Z" fill="#fff" stroke="#0000ff" stroke-width="1.45"/><polyline points="25.50,177.76 39.73,180.45 53.96,181.35 68.19,188.54 82.42,180.45 96.65,180.45 110.88,178.79 125.11,171.60 139.34,175.45 153.57,186.48 167.80,175.45" fill="none" stroke="#ff0000" stroke-width="1.55" stroke-linejoin="round"/><rect x="23.50" y="175.76" width="4.00" height="4.00" fill="#fff" stroke="#ff0000" stroke-width="1.45"/><rect x="37.73" y="178.45" width="4.00" height="4.00" fill="#fff" stroke="#ff0000" stroke-width="1.45"/><rect x="51.96" y="179.35" width="4.00" height="4.00" fill="#fff" stroke="#ff0000" stroke-width="1.45"/><rect x="66.19" y="186.54" width="4.00" height="4.00" fill="#fff" stroke="#ff0000" stroke-width="1.45"/><rect x="80.42" y="178.45" width="4.00" height="4.00" fill="#fff" stroke="#ff0000" stroke-width="1.45"/><rect x="94.65" y="178.45" width="4.00" height="4.00" fill="#fff" stroke="#ff0000" stroke-width="1.45"/><rect x="108.88" y="176.79" width="4.00" height="4.00" fill="#fff" stroke="#ff0000" stroke-width="1.45"/><rect x="123.11" y="169.60" width="4.00" height="4.00" fill="#fff" stroke="#ff0000" stroke-width="1.45"/><rect x="137.34" y="173.45" width="4.00" height="4.00" fill="#fff" stroke="#ff0000" stroke-width="1.45"/><rect x="151.57" y="184.48" width="4.00" height="4.00" fill="#fff" stroke="#ff0000" stroke-width="1.45"/><rect x="165.80" y="173.45" width="4.00" height="4.00" fill="#fff" stroke="#ff0000" stroke-width="1.45"/><rect x="25.50" y="165.70" width="142.30" height="128.30" fill="none" stroke="#000" stroke-width="1.45"/><path d="M25.50,294.00v-2.0M25.50,165.70v2.0M32.62,294.00v-1.3M32.62,165.70v1.3M39.73,294.00v-1.3M39.73,165.70v1.3M46.84,294.00v-1.3M46.84,165.70v1.3M53.96,294.00v-1.3M53.96,165.70v1.3M61.08,294.00v-2.0M61.08,165.70v2.0M68.19,294.00v-1.3M68.19,165.70v1.3M75.31,294.00v-1.3M75.31,165.70v1.3M82.42,294.00v-1.3M82.42,165.70v1.3M89.53,294.00v-1.3M89.53,165.70v1.3M96.65,294.00v-2.0M96.65,165.70v2.0M103.77,294.00v-1.3M103.77,165.70v1.3M110.88,294.00v-1.3M110.88,165.70v1.3M118.00,294.00v-1.3M118.00,165.70v1.3M125.11,294.00v-1.3M125.11,165.70v1.3M132.22,294.00v-2.0M132.22,165.70v2.0M139.34,294.00v-1.3M139.34,165.70v1.3M146.46,294.00v-1.3M146.46,165.70v1.3M153.57,294.00v-1.3M153.57,165.70v1.3M160.69,294.00v-1.3M160.69,165.70v1.3M167.80,294.00v-2.0M167.80,165.70v2.0M25.50,294.00h2.0M167.80,294.00h-2.0M25.50,291.43h1.3M167.80,291.43h-1.3M25.50,288.87h1.3M167.80,288.87h-1.3M25.50,286.30h1.3M167.80,286.30h-1.3M25.50,283.74h1.3M167.80,283.74h-1.3M25.50,281.17h1.3M167.80,281.17h-1.3M25.50,278.60h1.3M167.80,278.60h-1.3M25.50,276.04h1.3M167.80,276.04h-1.3M25.50,273.47h1.3M167.80,273.47h-1.3M25.50,270.91h1.3M167.80,270.91h-1.3M25.50,268.34h2.0M167.80,268.34h-2.0M25.50,265.77h1.3M167.80,265.77h-1.3M25.50,263.21h1.3M167.80,263.21h-1.3M25.50,260.64h1.3M167.80,260.64h-1.3M25.50,258.08h1.3M167.80,258.08h-1.3M25.50,255.51h1.3M167.80,255.51h-1.3M25.50,252.94h1.3M167.80,252.94h-1.3M25.50,250.38h1.3M167.80,250.38h-1.3M25.50,247.81h1.3M167.80,247.81h-1.3M25.50,245.25h1.3M167.80,245.25h-1.3M25.50,242.68h2.0M167.80,242.68h-2.0M25.50,240.11h1.3M167.80,240.11h-1.3M25.50,237.55h1.3M167.80,237.55h-1.3M25.50,234.98h1.3M167.80,234.98h-1.3M25.50,232.42h1.3M167.80,232.42h-1.3M25.50,229.85h1.3M167.80,229.85h-1.3M25.50,227.28h1.3M167.80,227.28h-1.3M25.50,224.72h1.3M167.80,224.72h-1.3M25.50,222.15h1.3M167.80,222.15h-1.3M25.50,219.59h1.3M167.80,219.59h-1.3M25.50,217.02h2.0M167.80,217.02h-2.0M25.50,214.45h1.3M167.80,214.45h-1.3M25.50,211.89h1.3M167.80,211.89h-1.3M25.50,209.32h1.3M167.80,209.32h-1.3M25.50,206.76h1.3M167.80,206.76h-1.3M25.50,204.19h1.3M167.80,204.19h-1.3M25.50,201.62h1.3M167.80,201.62h-1.3M25.50,199.06h1.3M167.80,199.06h-1.3M25.50,196.49h1.3M167.80,196.49h-1.3M25.50,193.93h1.3M167.80,193.93h-1.3M25.50,191.36h2.0M167.80,191.36h-2.0M25.50,188.79h1.3M167.80,188.79h-1.3M25.50,186.23h1.3M167.80,186.23h-1.3M25.50,183.66h1.3M167.80,183.66h-1.3M25.50,181.10h1.3M167.80,181.10h-1.3M25.50,178.53h1.3M167.80,178.53h-1.3M25.50,175.96h1.3M167.80,175.96h-1.3M25.50,173.40h1.3M167.80,173.40h-1.3M25.50,170.83h1.3M167.80,170.83h-1.3M25.50,168.27h1.3M167.80,168.27h-1.3M25.50,165.70h2.0M167.80,165.70h-2.0" stroke="#000" stroke-width="0.8" fill="none"/><text x="25.50" y="304.80" text-anchor="middle" font-size="7.9" fill="#1a1a1a" font-family="Liberation Serif, serif">0.1</text><text x="61.07" y="304.80" text-anchor="middle" font-size="7.9" fill="#1a1a1a" font-family="Liberation Serif, serif">0.15</text><text x="96.65" y="304.80" text-anchor="middle" font-size="7.9" fill="#1a1a1a" font-family="Liberation Serif, serif">0.2</text><text x="132.22" y="304.80" text-anchor="middle" font-size="7.9" fill="#1a1a1a" font-family="Liberation Serif, serif">0.25</text><text x="167.80" y="304.80" text-anchor="middle" font-size="7.9" fill="#1a1a1a" font-family="Liberation Serif, serif">0.3</text><text x="23.20" y="297.60" text-anchor="end" font-size="7.9" fill="#1a1a1a" font-family="Liberation Serif, serif">0</text><text x="23.20" y="271.94" text-anchor="end" font-size="7.9" fill="#1a1a1a" font-family="Liberation Serif, serif">20</text><text x="23.20" y="246.28" text-anchor="end" font-size="7.9" fill="#1a1a1a" font-family="Liberation Serif, serif">40</text><text x="23.20" y="220.62" text-anchor="end" font-size="7.9" fill="#1a1a1a" font-family="Liberation Serif, serif">60</text><text x="23.20" y="194.96" text-anchor="end" font-size="7.9" fill="#1a1a1a" font-family="Liberation Serif, serif">80</text><text x="23.20" y="169.30" text-anchor="end" font-size="7.9" fill="#1a1a1a" font-family="Liberation Serif, serif">100</text><text x="96.65" y="315.20" text-anchor="middle" font-size="7.9" fill="#1a1a1a" font-family="Liberation Serif, serif">Percentage of Selected Features</text><text x="92.00" y="324.80" text-anchor="middle" font-size="7.9" font-weight="bold" fill="#000" style="stroke-width:0.08px" font-family="Liberation Serif, serif">(d) AR10P</text><text transform="translate(6.90,229.85) rotate(-90)" text-anchor="middle" font-size="7.9" fill="#1a1a1a" font-family="Liberation Serif, serif">ACC (%)</text></g><g><line x1="249.20" y1="294.50" x2="249.20" y2="166.40" stroke="#d0d0d0" stroke-width="0.75" stroke-dasharray="5,5.4" stroke-dashoffset="0.9"/><line x1="284.70" y1="294.50" x2="284.70" y2="166.40" stroke="#d0d0d0" stroke-width="0.75" stroke-dasharray="5,5.4" stroke-dashoffset="0.9"/><line x1="320.20" y1="294.50" x2="320.20" y2="166.40" stroke="#d0d0d0" stroke-width="0.75" stroke-dasharray="5,5.4" stroke-dashoffset="0.9"/><line x1="213.70" y1="262.48" x2="355.70" y2="262.48" stroke="#d0d0d0" stroke-width="0.75" stroke-dasharray="5,5.4" stroke-dashoffset="0.9"/><line x1="213.70" y1="230.45" x2="355.70" y2="230.45" stroke="#d0d0d0" stroke-width="0.75" stroke-dasharray="5,5.4" stroke-dashoffset="0.9"/><line x1="213.70" y1="198.43" x2="355.70" y2="198.43" stroke="#d0d0d0" stroke-width="0.75" stroke-dasharray="5,5.4" stroke-dashoffset="0.9"/><polyline points="213.70,216.68 227.90,253.51 242.10,243.90 256.30,234.93 270.50,229.81 284.70,230.45 298.90,229.81 313.10,225.65 327.30,224.69 341.50,231.09 355.70,236.86" fill="none" stroke="#edb000" stroke-width="1.55" stroke-dasharray="5,3" stroke-linejoin="round"/><path d="M211.70,215.08L215.70,218.28M211.70,218.28L215.70,215.08M211.50,216.68L215.90,216.68" stroke="#edb000" stroke-width="1.1" fill="none"/><path d="M225.90,251.91L229.90,255.11M225.90,255.11L229.90,251.91M225.70,253.51L230.10,253.51" stroke="#edb000" stroke-width="1.1" fill="none"/><path d="M240.10,242.30L244.10,245.50M240.10,245.50L244.10,242.30M239.90,243.90L244.30,243.90" stroke="#edb000" stroke-width="1.1" fill="none"/><path d="M254.30,233.33L258.30,236.53M254.30,236.53L258.30,233.33M254.10,234.93L258.50,234.93" stroke="#edb000" stroke-width="1.1" fill="none"/><path d="M268.50,228.21L272.50,231.41M268.50,231.41L272.50,228.21M268.30,229.81L272.70,229.81" stroke="#edb000" stroke-width="1.1" fill="none"/><path d="M282.70,228.85L286.70,232.05M282.70,232.05L286.70,228.85M282.50,230.45L286.90,230.45" stroke="#edb000" stroke-width="1.1" fill="none"/><path d="M296.90,228.21L300.90,231.41M296.90,231.41L300.90,228.21M296.70,229.81L301.10,229.81" stroke="#edb000" stroke-width="1.1" fill="none"/><path d="M311.10,224.05L315.10,227.25M311.10,227.25L315.10,224.05M310.90,225.65L315.30,225.65" stroke="#edb000" stroke-width="1.1" fill="none"/><path d="M325.30,223.09L329.30,226.29M325.30,226.29L329.30,223.09M325.10,224.69L329.50,224.69" stroke="#edb000" stroke-width="1.1" fill="none"/><path d="M339.50,229.49L343.50,232.69M339.50,232.69L343.50,229.49M339.30,231.09L343.70,231.09" stroke="#edb000" stroke-width="1.1" fill="none"/><path d="M353.70,235.26L357.70,238.46M353.70,238.46L357.70,235.26M353.50,236.86L357.90,236.86" stroke="#edb000" stroke-width="1.1" fill="none"/><polyline points="213.70,289.22 227.90,289.22 242.10,289.22 256.30,289.22 270.50,289.22 284.70,289.22 298.90,289.22 313.10,289.22 327.30,289.22 341.50,289.22 355.70,289.22" fill="none" stroke="#a020f0" stroke-width="1.55" stroke-dasharray="5,3" stroke-linejoin="round"/><path d="M213.70,286.22L216.45,291.32L210.95,291.32Z" fill="#fff" stroke="#a020f0" stroke-width="1.45" stroke-linejoin="miter"/><path d="M227.90,286.22L230.65,291.32L225.15,291.32Z" fill="#fff" stroke="#a020f0" stroke-width="1.45" stroke-linejoin="miter"/><path d="M242.10,286.22L244.85,291.32L239.35,291.32Z" fill="#fff" stroke="#a020f0" stroke-width="1.45" stroke-linejoin="miter"/><path d="M256.30,286.22L259.05,291.32L253.55,291.32Z" fill="#fff" stroke="#a020f0" stroke-width="1.45" stroke-linejoin="miter"/><path d="M270.50,286.22L273.25,291.32L267.75,291.32Z" fill="#fff" stroke="#a020f0" stroke-width="1.45" stroke-linejoin="miter"/><path d="M284.70,286.22L287.45,291.32L281.95,291.32Z" fill="#fff" stroke="#a020f0" stroke-width="1.45" stroke-linejoin="miter"/><path d="M298.90,286.22L301.65,291.32L296.15,291.32Z" fill="#fff" stroke="#a020f0" stroke-width="1.45" stroke-linejoin="miter"/><path d="M313.10,286.22L315.85,291.32L310.35,291.32Z" fill="#fff" stroke="#a020f0" stroke-width="1.45" stroke-linejoin="miter"/><path d="M327.30,286.22L330.05,291.32L324.55,291.32Z" fill="#fff" stroke="#a020f0" stroke-width="1.45" stroke-linejoin="miter"/><path d="M341.50,286.22L344.25,291.32L338.75,291.32Z" fill="#fff" stroke="#a020f0" stroke-width="1.45" stroke-linejoin="miter"/><path d="M355.70,286.22L358.45,291.32L352.95,291.32Z" fill="#fff" stroke="#a020f0" stroke-width="1.45" stroke-linejoin="miter"/><polyline points="213.70,216.36 227.90,208.03 242.10,209.95 256.30,216.36 270.50,224.69 284.70,220.84 298.90,200.03 313.10,222.44 327.30,207.39 341.50,214.76 355.70,218.92" fill="none" stroke="#ff8200" stroke-width="1.55" stroke-dasharray="5,3" stroke-linejoin="round"/><path d="M216.80,216.36L211.60,213.56L211.60,219.16Z" fill="#fff" stroke="#ff8200" stroke-width="1.45"/><path d="M231.00,208.03L225.80,205.23L225.80,210.83Z" fill="#fff" stroke="#ff8200" stroke-width="1.45"/><path d="M245.20,209.95L240.00,207.15L240.00,212.75Z" fill="#fff" stroke="#ff8200" stroke-width="1.45"/><path d="M259.40,216.36L254.20,213.56L254.20,219.16Z" fill="#fff" stroke="#ff8200" stroke-width="1.45"/><path d="M273.60,224.69L268.40,221.89L268.40,227.49Z" fill="#fff" stroke="#ff8200" stroke-width="1.45"/><path d="M287.80,220.84L282.60,218.04L282.60,223.64Z" fill="#fff" stroke="#ff8200" stroke-width="1.45"/><path d="M302.00,200.03L296.80,197.23L296.80,202.83Z" fill="#fff" stroke="#ff8200" stroke-width="1.45"/><path d="M316.20,222.44L311.00,219.64L311.00,225.24Z" fill="#fff" stroke="#ff8200" stroke-width="1.45"/><path d="M330.40,207.39L325.20,204.59L325.20,210.19Z" fill="#fff" stroke="#ff8200" stroke-width="1.45"/><path d="M344.60,214.76L339.40,211.96L339.40,217.56Z" fill="#fff" stroke="#ff8200" stroke-width="1.45"/><path d="M358.80,218.92L353.60,216.12L353.60,221.72Z" fill="#fff" stroke="#ff8200" stroke-width="1.45"/><polyline points="213.70,238.78 227.90,238.14 242.10,245.50 256.30,248.38 270.50,238.78 284.70,238.14 298.90,234.61 313.10,231.73 327.30,227.25 341.50,226.45 355.70,228.21" fill="none" stroke="#9a4a18" stroke-width="1.55" stroke-linejoin="round"/><path d="M213.70,235.08L214.58,237.56L217.22,237.63L215.13,239.24L215.87,241.77L213.70,240.28L211.53,241.77L212.27,239.24L210.18,237.63L212.82,237.56Z" fill="#8e4416" stroke="#8e4416" stroke-width="0.6"/><path d="M227.90,234.44L228.78,236.92L231.42,236.99L229.33,238.60L230.07,241.13L227.90,239.64L225.73,241.13L226.47,238.60L224.38,236.99L227.02,236.92Z" fill="#8e4416" stroke="#8e4416" stroke-width="0.6"/><path d="M242.10,241.80L242.98,244.29L245.62,244.36L243.53,245.97L244.27,248.50L242.10,247.00L239.93,248.50L240.67,245.97L238.58,244.36L241.22,244.29Z" fill="#8e4416" stroke="#8e4416" stroke-width="0.6"/><path d="M256.30,244.68L257.18,247.17L259.82,247.24L257.73,248.85L258.47,251.38L256.30,249.88L254.13,251.38L254.87,248.85L252.78,247.24L255.42,247.17Z" fill="#8e4416" stroke="#8e4416" stroke-width="0.6"/><path d="M270.50,235.08L271.38,237.56L274.02,237.63L271.93,239.24L272.67,241.77L270.50,240.28L268.33,241.77L269.07,239.24L266.98,237.63L269.62,237.56Z" fill="#8e4416" stroke="#8e4416" stroke-width="0.6"/><path d="M284.70,234.44L285.58,236.92L288.22,236.99L286.13,238.60L286.87,241.13L284.70,239.64L282.53,241.13L283.27,238.60L281.18,236.99L283.82,236.92Z" fill="#8e4416" stroke="#8e4416" stroke-width="0.6"/><path d="M298.90,230.91L299.78,233.40L302.42,233.47L300.33,235.08L301.07,237.61L298.90,236.11L296.73,237.61L297.47,235.08L295.38,233.47L298.02,233.40Z" fill="#8e4416" stroke="#8e4416" stroke-width="0.6"/><path d="M313.10,228.03L313.98,230.52L316.62,230.59L314.53,232.19L315.27,234.72L313.10,233.23L310.93,234.72L311.67,232.19L309.58,230.59L312.22,230.52Z" fill="#8e4416" stroke="#8e4416" stroke-width="0.6"/><path d="M327.30,223.55L328.18,226.03L330.82,226.10L328.73,227.71L329.47,230.24L327.30,228.75L325.13,230.24L325.87,227.71L323.78,226.10L326.42,226.03Z" fill="#8e4416" stroke="#8e4416" stroke-width="0.6"/><path d="M341.50,222.75L342.38,225.23L345.02,225.30L342.93,226.91L343.67,229.44L341.50,227.95L339.33,229.44L340.07,226.91L337.98,225.30L340.62,225.23Z" fill="#8e4416" stroke="#8e4416" stroke-width="0.6"/><path d="M355.70,224.51L356.58,226.99L359.22,227.06L357.13,228.67L357.87,231.20L355.70,229.71L353.53,231.20L354.27,228.67L352.18,227.06L354.82,226.99Z" fill="#8e4416" stroke="#8e4416" stroke-width="0.6"/><polyline points="213.70,257.03 227.90,255.11 242.10,257.03 256.30,257.03 270.50,255.43 284.70,251.27 298.90,244.22 313.10,243.58 327.30,240.86 341.50,240.06 355.70,239.26" fill="none" stroke="#0a8a0a" stroke-width="1.55" stroke-linejoin="round"/><circle cx="213.70" cy="257.03" r="2.1" fill="#fff" stroke="#0a8a0a" stroke-width="1.45"/><circle cx="227.90" cy="255.11" r="2.1" fill="#fff" stroke="#0a8a0a" stroke-width="1.45"/><circle cx="242.10" cy="257.03" r="2.1" fill="#fff" stroke="#0a8a0a" stroke-width="1.45"/><circle cx="256.30" cy="257.03" r="2.1" fill="#fff" stroke="#0a8a0a" stroke-width="1.45"/><circle cx="270.50" cy="255.43" r="2.1" fill="#fff" stroke="#0a8a0a" stroke-width="1.45"/><circle cx="284.70" cy="251.27" r="2.1" fill="#fff" stroke="#0a8a0a" stroke-width="1.45"/><circle cx="298.90" cy="244.22" r="2.1" fill="#fff" stroke="#0a8a0a" stroke-width="1.45"/><circle cx="313.10" cy="243.58" r="2.1" fill="#fff" stroke="#0a8a0a" stroke-width="1.45"/><circle cx="327.30" cy="240.86" r="2.1" fill="#fff" stroke="#0a8a0a" stroke-width="1.45"/><circle cx="341.50" cy="240.06" r="2.1" fill="#fff" stroke="#0a8a0a" stroke-width="1.45"/><circle cx="355.70" cy="239.26" r="2.1" fill="#fff" stroke="#0a8a0a" stroke-width="1.45"/><polyline points="213.70,233.33 227.90,233.33 242.10,233.33 256.30,233.33 270.50,233.33 284.70,233.33 298.90,233.33 313.10,233.33 327.30,233.33 341.50,233.33 355.70,233.33" fill="none" stroke="#0000ff" stroke-width="1.55" stroke-linejoin="round"/><path d="M213.70,230.13L216.10,233.33L213.70,236.53L211.30,233.33Z" fill="#fff" stroke="#0000ff" stroke-width="1.45"/><path d="M227.90,230.13L230.30,233.33L227.90,236.53L225.50,233.33Z" fill="#fff" stroke="#0000ff" stroke-width="1.45"/><path d="M242.10,230.13L244.50,233.33L242.10,236.53L239.70,233.33Z" fill="#fff" stroke="#0000ff" stroke-width="1.45"/><path d="M256.30,230.13L258.70,233.33L256.30,236.53L253.90,233.33Z" fill="#fff" stroke="#0000ff" stroke-width="1.45"/><path d="M270.50,230.13L272.90,233.33L270.50,236.53L268.10,233.33Z" fill="#fff" stroke="#0000ff" stroke-width="1.45"/><path d="M284.70,230.13L287.10,233.33L284.70,236.53L282.30,233.33Z" fill="#fff" stroke="#0000ff" stroke-width="1.45"/><path d="M298.90,230.13L301.30,233.33L298.90,236.53L296.50,233.33Z" fill="#fff" stroke="#0000ff" stroke-width="1.45"/><path d="M313.10,230.13L315.50,233.33L313.10,236.53L310.70,233.33Z" fill="#fff" stroke="#0000ff" stroke-width="1.45"/><path d="M327.30,230.13L329.70,233.33L327.30,236.53L324.90,233.33Z" fill="#fff" stroke="#0000ff" stroke-width="1.45"/><path d="M341.50,230.13L343.90,233.33L341.50,236.53L339.10,233.33Z" fill="#fff" stroke="#0000ff" stroke-width="1.45"/><path d="M355.70,230.13L358.10,233.33L355.70,236.53L353.30,233.33Z" fill="#fff" stroke="#0000ff" stroke-width="1.45"/><polyline points="213.70,184.01 227.90,183.37 242.10,186.90 256.30,176.01 270.50,178.41 284.70,173.45 298.90,171.52 313.10,171.52 327.30,172.81 341.50,171.52 355.70,180.49" fill="none" stroke="#ff0000" stroke-width="1.55" stroke-linejoin="round"/><rect x="211.70" y="182.01" width="4.00" height="4.00" fill="#fff" stroke="#ff0000" stroke-width="1.45"/><rect x="225.90" y="181.37" width="4.00" height="4.00" fill="#fff" stroke="#ff0000" stroke-width="1.45"/><rect x="240.10" y="184.90" width="4.00" height="4.00" fill="#fff" stroke="#ff0000" stroke-width="1.45"/><rect x="254.30" y="174.01" width="4.00" height="4.00" fill="#fff" stroke="#ff0000" stroke-width="1.45"/><rect x="268.50" y="176.41" width="4.00" height="4.00" fill="#fff" stroke="#ff0000" stroke-width="1.45"/><rect x="282.70" y="171.45" width="4.00" height="4.00" fill="#fff" stroke="#ff0000" stroke-width="1.45"/><rect x="296.90" y="169.52" width="4.00" height="4.00" fill="#fff" stroke="#ff0000" stroke-width="1.45"/><rect x="311.10" y="169.52" width="4.00" height="4.00" fill="#fff" stroke="#ff0000" stroke-width="1.45"/><rect x="325.30" y="170.81" width="4.00" height="4.00" fill="#fff" stroke="#ff0000" stroke-width="1.45"/><rect x="339.50" y="169.52" width="4.00" height="4.00" fill="#fff" stroke="#ff0000" stroke-width="1.45"/><rect x="353.70" y="178.49" width="4.00" height="4.00" fill="#fff" stroke="#ff0000" stroke-width="1.45"/><rect x="213.70" y="166.40" width="142.00" height="128.10" fill="none" stroke="#000" stroke-width="1.45"/><path d="M213.70,294.50v-2.0M213.70,166.40v2.0M220.80,294.50v-1.3M220.80,166.40v1.3M227.90,294.50v-1.3M227.90,166.40v1.3M235.00,294.50v-1.3M235.00,166.40v1.3M242.10,294.50v-1.3M242.10,166.40v1.3M249.20,294.50v-2.0M249.20,166.40v2.0M256.30,294.50v-1.3M256.30,166.40v1.3M263.40,294.50v-1.3M263.40,166.40v1.3M270.50,294.50v-1.3M270.50,166.40v1.3M277.60,294.50v-1.3M277.60,166.40v1.3M284.70,294.50v-2.0M284.70,166.40v2.0M291.80,294.50v-1.3M291.80,166.40v1.3M298.90,294.50v-1.3M298.90,166.40v1.3M306.00,294.50v-1.3M306.00,166.40v1.3M313.10,294.50v-1.3M313.10,166.40v1.3M320.20,294.50v-2.0M320.20,166.40v2.0M327.30,294.50v-1.3M327.30,166.40v1.3M334.40,294.50v-1.3M334.40,166.40v1.3M341.50,294.50v-1.3M341.50,166.40v1.3M348.60,294.50v-1.3M348.60,166.40v1.3M355.70,294.50v-2.0M355.70,166.40v2.0M213.70,294.50h2.0M355.70,294.50h-2.0M213.70,291.30h1.3M355.70,291.30h-1.3M213.70,288.10h1.3M355.70,288.10h-1.3M213.70,284.89h1.3M355.70,284.89h-1.3M213.70,281.69h1.3M355.70,281.69h-1.3M213.70,278.49h1.3M355.70,278.49h-1.3M213.70,275.29h1.3M355.70,275.29h-1.3M213.70,272.08h1.3M355.70,272.08h-1.3M213.70,268.88h1.3M355.70,268.88h-1.3M213.70,265.68h1.3M355.70,265.68h-1.3M213.70,262.48h2.0M355.70,262.48h-2.0M213.70,259.27h1.3M355.70,259.27h-1.3M213.70,256.07h1.3M355.70,256.07h-1.3M213.70,252.87h1.3M355.70,252.87h-1.3M213.70,249.67h1.3M355.70,249.67h-1.3M213.70,246.46h1.3M355.70,246.46h-1.3M213.70,243.26h1.3M355.70,243.26h-1.3M213.70,240.06h1.3M355.70,240.06h-1.3M213.70,236.86h1.3M355.70,236.86h-1.3M213.70,233.65h1.3M355.70,233.65h-1.3M213.70,230.45h2.0M355.70,230.45h-2.0M213.70,227.25h1.3M355.70,227.25h-1.3M213.70,224.05h1.3M355.70,224.05h-1.3M213.70,220.84h1.3M355.70,220.84h-1.3M213.70,217.64h1.3M355.70,217.64h-1.3M213.70,214.44h1.3M355.70,214.44h-1.3M213.70,211.24h1.3M355.70,211.24h-1.3M213.70,208.03h1.3M355.70,208.03h-1.3M213.70,204.83h1.3M355.70,204.83h-1.3M213.70,201.63h1.3M355.70,201.63h-1.3M213.70,198.43h2.0M355.70,198.43h-2.0M213.70,195.22h1.3M355.70,195.22h-1.3M213.70,192.02h1.3M355.70,192.02h-1.3M213.70,188.82h1.3M355.70,188.82h-1.3M213.70,185.62h1.3M355.70,185.62h-1.3M213.70,182.41h1.3M355.70,182.41h-1.3M213.70,179.21h1.3M355.70,179.21h-1.3M213.70,176.01h1.3M355.70,176.01h-1.3M213.70,172.81h1.3M355.70,172.81h-1.3M213.70,169.60h1.3M355.70,169.60h-1.3M213.70,166.40h2.0M355.70,166.40h-2.0" stroke="#000" stroke-width="0.8" fill="none"/><text x="213.70" y="305.30" text-anchor="middle" font-size="7.9" fill="#1a1a1a" font-family="Liberation Serif, serif">0.1</text><text x="249.20" y="305.30" text-anchor="middle" font-size="7.9" fill="#1a1a1a" font-family="Liberation Serif, serif">0.15</text><text x="284.70" y="305.30" text-anchor="middle" font-size="7.9" fill="#1a1a1a" font-family="Liberation Serif, serif">0.2</text><text x="320.20" y="305.30" text-anchor="middle" font-size="7.9" fill="#1a1a1a" font-family="Liberation Serif, serif">0.25</text><text x="355.70" y="305.30" text-anchor="middle" font-size="7.9" fill="#1a1a1a" font-family="Liberation Serif, serif">0.3</text><text x="211.40" y="298.10" text-anchor="end" font-size="7.9" fill="#1a1a1a" font-family="Liberation Serif, serif">20</text><text x="211.40" y="266.08" text-anchor="end" font-size="7.9" fill="#1a1a1a" font-family="Liberation Serif, serif">30</text><text x="211.40" y="234.05" text-anchor="end" font-size="7.9" fill="#1a1a1a" font-family="Liberation Serif, serif">40</text><text x="211.40" y="202.03" text-anchor="end" font-size="7.9" fill="#1a1a1a" font-family="Liberation Serif, serif">50</text><text x="211.40" y="170.00" text-anchor="end" font-size="7.9" fill="#1a1a1a" font-family="Liberation Serif, serif">60</text><text x="284.70" y="315.20" text-anchor="middle" font-size="7.9" fill="#1a1a1a" font-family="Liberation Serif, serif">Percentage of Selected Features</text><text x="284.00" y="324.80" text-anchor="middle" font-size="7.9" font-weight="bold" fill="#000" style="stroke-width:0.08px" font-family="Liberation Serif, serif">(e) Yale</text><text transform="translate(200.70,230.45) rotate(-90)" text-anchor="middle" font-size="7.9" fill="#1a1a1a" font-family="Liberation Serif, serif">ACC (%)</text></g><g><line x1="436.82" y1="295.30" x2="436.82" y2="167.60" stroke="#d0d0d0" stroke-width="0.75" stroke-dasharray="5,5.4" stroke-dashoffset="0.9"/><line x1="472.35" y1="295.30" x2="472.35" y2="167.60" stroke="#d0d0d0" stroke-width="0.75" stroke-dasharray="5,5.4" stroke-dashoffset="0.9"/><line x1="507.88" y1="295.30" x2="507.88" y2="167.60" stroke="#d0d0d0" stroke-width="0.75" stroke-dasharray="5,5.4" stroke-dashoffset="0.9"/><line x1="401.30" y1="274.02" x2="543.40" y2="274.02" stroke="#d0d0d0" stroke-width="0.75" stroke-dasharray="5,5.4" stroke-dashoffset="0.9"/><line x1="401.30" y1="252.73" x2="543.40" y2="252.73" stroke="#d0d0d0" stroke-width="0.75" stroke-dasharray="5,5.4" stroke-dashoffset="0.9"/><line x1="401.30" y1="231.45" x2="543.40" y2="231.45" stroke="#d0d0d0" stroke-width="0.75" stroke-dasharray="5,5.4" stroke-dashoffset="0.9"/><line x1="401.30" y1="210.17" x2="543.40" y2="210.17" stroke="#d0d0d0" stroke-width="0.75" stroke-dasharray="5,5.4" stroke-dashoffset="0.9"/><line x1="401.30" y1="188.88" x2="543.40" y2="188.88" stroke="#d0d0d0" stroke-width="0.75" stroke-dasharray="5,5.4" stroke-dashoffset="0.9"/><polyline points="401.30,258.69 415.51,274.87 429.72,276.14 443.93,276.14 458.14,276.57 472.35,277.00 486.56,277.42 500.77,278.27 514.98,278.27 529.19,279.12 543.40,279.55" fill="none" stroke="#edb000" stroke-width="1.55" stroke-dasharray="5,3" stroke-linejoin="round"/><path d="M399.30,257.09L403.30,260.29M399.30,260.29L403.30,257.09M399.10,258.69L403.50,258.69" stroke="#edb000" stroke-width="1.1" fill="none"/><path d="M413.51,273.27L417.51,276.47M413.51,276.47L417.51,273.27M413.31,274.87L417.71,274.87" stroke="#edb000" stroke-width="1.1" fill="none"/><path d="M427.72,274.54L431.72,277.75M427.72,277.75L431.72,274.54M427.52,276.14L431.92,276.14" stroke="#edb000" stroke-width="1.1" fill="none"/><path d="M441.93,274.54L445.93,277.75M441.93,277.75L445.93,274.54M441.73,276.14L446.13,276.14" stroke="#edb000" stroke-width="1.1" fill="none"/><path d="M456.14,274.97L460.14,278.17M456.14,278.17L460.14,274.97M455.94,276.57L460.34,276.57" stroke="#edb000" stroke-width="1.1" fill="none"/><path d="M470.35,275.40L474.35,278.60M470.35,278.60L474.35,275.40M470.15,277.00L474.55,277.00" stroke="#edb000" stroke-width="1.1" fill="none"/><path d="M484.56,275.82L488.56,279.02M484.56,279.02L488.56,275.82M484.36,277.42L488.76,277.42" stroke="#edb000" stroke-width="1.1" fill="none"/><path d="M498.77,276.67L502.77,279.87M498.77,279.87L502.77,276.67M498.57,278.27L502.97,278.27" stroke="#edb000" stroke-width="1.1" fill="none"/><path d="M512.98,276.67L516.98,279.87M512.98,279.87L516.98,276.67M512.78,278.27L517.18,278.27" stroke="#edb000" stroke-width="1.1" fill="none"/><path d="M527.19,277.52L531.19,280.72M527.19,280.72L531.19,277.52M526.99,279.12L531.39,279.12" stroke="#edb000" stroke-width="1.1" fill="none"/><path d="M541.40,277.95L545.40,281.15M541.40,281.15L545.40,277.95M541.20,279.55L545.60,279.55" stroke="#edb000" stroke-width="1.1" fill="none"/><polyline points="401.30,287.64 415.51,287.64 429.72,287.64 443.93,287.64 458.14,287.64 472.35,287.64 486.56,287.64 500.77,287.64 514.98,287.64 529.19,287.64 543.40,287.64" fill="none" stroke="#a020f0" stroke-width="1.55" stroke-dasharray="5,3" stroke-linejoin="round"/><path d="M401.30,284.64L404.05,289.74L398.55,289.74Z" fill="#fff" stroke="#a020f0" stroke-width="1.45" stroke-linejoin="miter"/><path d="M415.51,284.64L418.26,289.74L412.76,289.74Z" fill="#fff" stroke="#a020f0" stroke-width="1.45" stroke-linejoin="miter"/><path d="M429.72,284.64L432.47,289.74L426.97,289.74Z" fill="#fff" stroke="#a020f0" stroke-width="1.45" stroke-linejoin="miter"/><path d="M443.93,284.64L446.68,289.74L441.18,289.74Z" fill="#fff" stroke="#a020f0" stroke-width="1.45" stroke-linejoin="miter"/><path d="M458.14,284.64L460.89,289.74L455.39,289.74Z" fill="#fff" stroke="#a020f0" stroke-width="1.45" stroke-linejoin="miter"/><path d="M472.35,284.64L475.10,289.74L469.60,289.74Z" fill="#fff" stroke="#a020f0" stroke-width="1.45" stroke-linejoin="miter"/><path d="M486.56,284.64L489.31,289.74L483.81,289.74Z" fill="#fff" stroke="#a020f0" stroke-width="1.45" stroke-linejoin="miter"/><path d="M500.77,284.64L503.52,289.74L498.02,289.74Z" fill="#fff" stroke="#a020f0" stroke-width="1.45" stroke-linejoin="miter"/><path d="M514.98,284.64L517.73,289.74L512.23,289.74Z" fill="#fff" stroke="#a020f0" stroke-width="1.45" stroke-linejoin="miter"/><path d="M529.19,284.64L531.94,289.74L526.44,289.74Z" fill="#fff" stroke="#a020f0" stroke-width="1.45" stroke-linejoin="miter"/><path d="M543.40,284.64L546.15,289.74L540.65,289.74Z" fill="#fff" stroke="#a020f0" stroke-width="1.45" stroke-linejoin="miter"/><polyline points="401.30,266.78 415.51,272.53 429.72,270.19 443.93,275.72 458.14,274.02 472.35,272.53 486.56,270.19 500.77,262.74 514.98,259.97 529.19,251.03 543.40,252.73" fill="none" stroke="#ff8200" stroke-width="1.55" stroke-dasharray="5,3" stroke-linejoin="round"/><path d="M404.40,266.78L399.20,263.98L399.20,269.58Z" fill="#fff" stroke="#ff8200" stroke-width="1.45"/><path d="M418.61,272.53L413.41,269.73L413.41,275.33Z" fill="#fff" stroke="#ff8200" stroke-width="1.45"/><path d="M432.82,270.19L427.62,267.39L427.62,272.99Z" fill="#fff" stroke="#ff8200" stroke-width="1.45"/><path d="M447.03,275.72L441.83,272.92L441.83,278.52Z" fill="#fff" stroke="#ff8200" stroke-width="1.45"/><path d="M461.24,274.02L456.04,271.22L456.04,276.82Z" fill="#fff" stroke="#ff8200" stroke-width="1.45"/><path d="M475.45,272.53L470.25,269.73L470.25,275.33Z" fill="#fff" stroke="#ff8200" stroke-width="1.45"/><path d="M489.66,270.19L484.46,267.39L484.46,272.99Z" fill="#fff" stroke="#ff8200" stroke-width="1.45"/><path d="M503.87,262.74L498.67,259.94L498.67,265.54Z" fill="#fff" stroke="#ff8200" stroke-width="1.45"/><path d="M518.08,259.97L512.88,257.17L512.88,262.77Z" fill="#fff" stroke="#ff8200" stroke-width="1.45"/><path d="M532.29,251.03L527.09,248.23L527.09,253.83Z" fill="#fff" stroke="#ff8200" stroke-width="1.45"/><path d="M546.50,252.73L541.30,249.93L541.30,255.53Z" fill="#fff" stroke="#ff8200" stroke-width="1.45"/><polyline points="401.30,277.00 415.51,277.85 429.72,276.36 443.93,279.98 458.14,279.98 472.35,279.55 486.56,279.55 500.77,279.12 514.98,279.55 529.19,281.25 543.40,281.68" fill="none" stroke="#9a4a18" stroke-width="1.55" stroke-linejoin="round"/><path d="M401.30,273.30L402.18,275.78L404.82,275.85L402.73,277.46L403.47,279.99L401.30,278.50L399.13,279.99L399.87,277.46L397.78,275.85L400.42,275.78Z" fill="#8e4416" stroke="#8e4416" stroke-width="0.6"/><path d="M415.51,274.15L416.39,276.63L419.03,276.70L416.94,278.31L417.68,280.84L415.51,279.35L413.34,280.84L414.08,278.31L411.99,276.70L414.63,276.63Z" fill="#8e4416" stroke="#8e4416" stroke-width="0.6"/><path d="M429.72,272.66L430.60,275.14L433.24,275.21L431.15,276.82L431.89,279.35L429.72,277.86L427.55,279.35L428.29,276.82L426.20,275.21L428.84,275.14Z" fill="#8e4416" stroke="#8e4416" stroke-width="0.6"/><path d="M443.93,276.28L444.81,278.76L447.45,278.83L445.36,280.44L446.10,282.97L443.93,281.48L441.76,282.97L442.50,280.44L440.41,278.83L443.05,278.76Z" fill="#8e4416" stroke="#8e4416" stroke-width="0.6"/><path d="M458.14,276.28L459.02,278.76L461.66,278.83L459.57,280.44L460.31,282.97L458.14,281.48L455.97,282.97L456.71,280.44L454.62,278.83L457.26,278.76Z" fill="#8e4416" stroke="#8e4416" stroke-width="0.6"/><path d="M472.35,275.85L473.23,278.34L475.87,278.41L473.78,280.01L474.52,282.54L472.35,281.05L470.18,282.54L470.92,280.01L468.83,278.41L471.47,278.34Z" fill="#8e4416" stroke="#8e4416" stroke-width="0.6"/><path d="M486.56,275.85L487.44,278.34L490.08,278.41L487.99,280.01L488.73,282.54L486.56,281.05L484.39,282.54L485.13,280.01L483.04,278.41L485.68,278.34Z" fill="#8e4416" stroke="#8e4416" stroke-width="0.6"/><path d="M500.77,275.42L501.65,277.91L504.29,277.98L502.20,279.59L502.94,282.12L500.77,280.62L498.60,282.12L499.34,279.59L497.25,277.98L499.89,277.91Z" fill="#8e4416" stroke="#8e4416" stroke-width="0.6"/><path d="M514.98,275.85L515.86,278.34L518.50,278.41L516.41,280.01L517.15,282.54L514.98,281.05L512.81,282.54L513.55,280.01L511.46,278.41L514.10,278.34Z" fill="#8e4416" stroke="#8e4416" stroke-width="0.6"/><path d="M529.19,277.55L530.07,280.04L532.71,280.11L530.62,281.72L531.36,284.25L529.19,282.75L527.02,284.25L527.76,281.72L525.67,280.11L528.31,280.04Z" fill="#8e4416" stroke="#8e4416" stroke-width="0.6"/><path d="M543.40,277.98L544.28,280.47L546.92,280.54L544.83,282.14L545.57,284.67L543.40,283.18L541.23,284.67L541.97,282.14L539.88,280.54L542.52,280.47Z" fill="#8e4416" stroke="#8e4416" stroke-width="0.6"/><polyline points="401.30,281.25 415.51,281.25 429.72,281.25 443.93,281.25 458.14,281.25 472.35,281.25 486.56,281.25 500.77,281.25 514.98,281.25 529.19,281.25 543.40,281.25" fill="none" stroke="#0a8a0a" stroke-width="1.55" stroke-linejoin="round"/><circle cx="401.30" cy="281.25" r="2.1" fill="#fff" stroke="#0a8a0a" stroke-width="1.45"/><circle cx="415.51" cy="281.25" r="2.1" fill="#fff" stroke="#0a8a0a" stroke-width="1.45"/><circle cx="429.72" cy="281.25" r="2.1" fill="#fff" stroke="#0a8a0a" stroke-width="1.45"/><circle cx="443.93" cy="281.25" r="2.1" fill="#fff" stroke="#0a8a0a" stroke-width="1.45"/><circle cx="458.14" cy="281.25" r="2.1" fill="#fff" stroke="#0a8a0a" stroke-width="1.45"/><circle cx="472.35" cy="281.25" r="2.1" fill="#fff" stroke="#0a8a0a" stroke-width="1.45"/><circle cx="486.56" cy="281.25" r="2.1" fill="#fff" stroke="#0a8a0a" stroke-width="1.45"/><circle cx="500.77" cy="281.25" r="2.1" fill="#fff" stroke="#0a8a0a" stroke-width="1.45"/><circle cx="514.98" cy="281.25" r="2.1" fill="#fff" stroke="#0a8a0a" stroke-width="1.45"/><circle cx="529.19" cy="281.25" r="2.1" fill="#fff" stroke="#0a8a0a" stroke-width="1.45"/><circle cx="543.40" cy="281.25" r="2.1" fill="#fff" stroke="#0a8a0a" stroke-width="1.45"/><polyline points="401.30,282.96 415.51,282.96 429.72,282.96 443.93,282.96 458.14,282.96 472.35,282.96 486.56,282.96 500.77,282.96 514.98,282.96 529.19,282.96 543.40,282.96" fill="none" stroke="#0000ff" stroke-width="1.55" stroke-linejoin="round"/><path d="M401.30,279.76L403.70,282.96L401.30,286.16L398.90,282.96Z" fill="#fff" stroke="#0000ff" stroke-width="1.45"/><path d="M415.51,279.76L417.91,282.96L415.51,286.16L413.11,282.96Z" fill="#fff" stroke="#0000ff" stroke-width="1.45"/><path d="M429.72,279.76L432.12,282.96L429.72,286.16L427.32,282.96Z" fill="#fff" stroke="#0000ff" stroke-width="1.45"/><path d="M443.93,279.76L446.33,282.96L443.93,286.16L441.53,282.96Z" fill="#fff" stroke="#0000ff" stroke-width="1.45"/><path d="M458.14,279.76L460.54,282.96L458.14,286.16L455.74,282.96Z" fill="#fff" stroke="#0000ff" stroke-width="1.45"/><path d="M472.35,279.76L474.75,282.96L472.35,286.16L469.95,282.96Z" fill="#fff" stroke="#0000ff" stroke-width="1.45"/><path d="M486.56,279.76L488.96,282.96L486.56,286.16L484.16,282.96Z" fill="#fff" stroke="#0000ff" stroke-width="1.45"/><path d="M500.77,279.76L503.17,282.96L500.77,286.16L498.37,282.96Z" fill="#fff" stroke="#0000ff" stroke-width="1.45"/><path d="M514.98,279.76L517.38,282.96L514.98,286.16L512.58,282.96Z" fill="#fff" stroke="#0000ff" stroke-width="1.45"/><path d="M529.19,279.76L531.59,282.96L529.19,286.16L526.79,282.96Z" fill="#fff" stroke="#0000ff" stroke-width="1.45"/><path d="M543.40,279.76L545.80,282.96L543.40,286.16L541.00,282.96Z" fill="#fff" stroke="#0000ff" stroke-width="1.45"/><polyline points="401.30,243.37 415.51,225.92 429.72,211.02 443.93,213.57 458.14,205.91 472.35,206.76 486.56,201.23 500.77,208.46 514.98,193.14 529.19,185.48 543.40,185.05" fill="none" stroke="#ff0000" stroke-width="1.55" stroke-linejoin="round"/><rect x="399.30" y="241.37" width="4.00" height="4.00" fill="#fff" stroke="#ff0000" stroke-width="1.45"/><rect x="413.51" y="223.92" width="4.00" height="4.00" fill="#fff" stroke="#ff0000" stroke-width="1.45"/><rect x="427.72" y="209.02" width="4.00" height="4.00" fill="#fff" stroke="#ff0000" stroke-width="1.45"/><rect x="441.93" y="211.57" width="4.00" height="4.00" fill="#fff" stroke="#ff0000" stroke-width="1.45"/><rect x="456.14" y="203.91" width="4.00" height="4.00" fill="#fff" stroke="#ff0000" stroke-width="1.45"/><rect x="470.35" y="204.76" width="4.00" height="4.00" fill="#fff" stroke="#ff0000" stroke-width="1.45"/><rect x="484.56" y="199.23" width="4.00" height="4.00" fill="#fff" stroke="#ff0000" stroke-width="1.45"/><rect x="498.77" y="206.46" width="4.00" height="4.00" fill="#fff" stroke="#ff0000" stroke-width="1.45"/><rect x="512.98" y="191.14" width="4.00" height="4.00" fill="#fff" stroke="#ff0000" stroke-width="1.45"/><rect x="527.19" y="183.48" width="4.00" height="4.00" fill="#fff" stroke="#ff0000" stroke-width="1.45"/><rect x="541.40" y="183.05" width="4.00" height="4.00" fill="#fff" stroke="#ff0000" stroke-width="1.45"/><rect x="401.30" y="167.60" width="142.10" height="127.70" fill="none" stroke="#000" stroke-width="1.45"/><path d="M401.30,295.30v-2.0M401.30,167.60v2.0M408.41,295.30v-1.3M408.41,167.60v1.3M415.51,295.30v-1.3M415.51,167.60v1.3M422.62,295.30v-1.3M422.62,167.60v1.3M429.72,295.30v-1.3M429.72,167.60v1.3M436.82,295.30v-2.0M436.82,167.60v2.0M443.93,295.30v-1.3M443.93,167.60v1.3M451.04,295.30v-1.3M451.04,167.60v1.3M458.14,295.30v-1.3M458.14,167.60v1.3M465.25,295.30v-1.3M465.25,167.60v1.3M472.35,295.30v-2.0M472.35,167.60v2.0M479.45,295.30v-1.3M479.45,167.60v1.3M486.56,295.30v-1.3M486.56,167.60v1.3M493.66,295.30v-1.3M493.66,167.60v1.3M500.77,295.30v-1.3M500.77,167.60v1.3M507.88,295.30v-2.0M507.88,167.60v2.0M514.98,295.30v-1.3M514.98,167.60v1.3M522.09,295.30v-1.3M522.09,167.60v1.3M529.19,295.30v-1.3M529.19,167.60v1.3M536.29,295.30v-1.3M536.29,167.60v1.3M543.40,295.30v-2.0M543.40,167.60v2.0M401.30,295.30h2.0M543.40,295.30h-2.0M401.30,292.64h1.3M543.40,292.64h-1.3M401.30,289.98h1.3M543.40,289.98h-1.3M401.30,287.32h1.3M543.40,287.32h-1.3M401.30,284.66h1.3M543.40,284.66h-1.3M401.30,282.00h1.3M543.40,282.00h-1.3M401.30,279.34h1.3M543.40,279.34h-1.3M401.30,276.68h1.3M543.40,276.68h-1.3M401.30,274.02h2.0M543.40,274.02h-2.0M401.30,271.36h1.3M543.40,271.36h-1.3M401.30,268.70h1.3M543.40,268.70h-1.3M401.30,266.04h1.3M543.40,266.04h-1.3M401.30,263.38h1.3M543.40,263.38h-1.3M401.30,260.71h1.3M543.40,260.71h-1.3M401.30,258.05h1.3M543.40,258.05h-1.3M401.30,255.39h1.3M543.40,255.39h-1.3M401.30,252.73h2.0M543.40,252.73h-2.0M401.30,250.07h1.3M543.40,250.07h-1.3M401.30,247.41h1.3M543.40,247.41h-1.3M401.30,244.75h1.3M543.40,244.75h-1.3M401.30,242.09h1.3M543.40,242.09h-1.3M401.30,239.43h1.3M543.40,239.43h-1.3M401.30,236.77h1.3M543.40,236.77h-1.3M401.30,234.11h1.3M543.40,234.11h-1.3M401.30,231.45h2.0M543.40,231.45h-2.0M401.30,228.79h1.3M543.40,228.79h-1.3M401.30,226.13h1.3M543.40,226.13h-1.3M401.30,223.47h1.3M543.40,223.47h-1.3M401.30,220.81h1.3M543.40,220.81h-1.3M401.30,218.15h1.3M543.40,218.15h-1.3M401.30,215.49h1.3M543.40,215.49h-1.3M401.30,212.83h1.3M543.40,212.83h-1.3M401.30,210.17h2.0M543.40,210.17h-2.0M401.30,207.51h1.3M543.40,207.51h-1.3M401.30,204.85h1.3M543.40,204.85h-1.3M401.30,202.19h1.3M543.40,202.19h-1.3M401.30,199.52h1.3M543.40,199.52h-1.3M401.30,196.86h1.3M543.40,196.86h-1.3M401.30,194.20h1.3M543.40,194.20h-1.3M401.30,191.54h1.3M543.40,191.54h-1.3M401.30,188.88h2.0M543.40,188.88h-2.0M401.30,186.22h1.3M543.40,186.22h-1.3M401.30,183.56h1.3M543.40,183.56h-1.3M401.30,180.90h1.3M543.40,180.90h-1.3M401.30,178.24h1.3M543.40,178.24h-1.3M401.30,175.58h1.3M543.40,175.58h-1.3M401.30,172.92h1.3M543.40,172.92h-1.3M401.30,170.26h1.3M543.40,170.26h-1.3M401.30,167.60h2.0M543.40,167.60h-2.0" stroke="#000" stroke-width="0.8" fill="none"/><text x="401.30" y="306.10" text-anchor="middle" font-size="7.9" fill="#1a1a1a" font-family="Liberation Serif, serif">0.1</text><text x="436.82" y="306.10" text-anchor="middle" font-size="7.9" fill="#1a1a1a" font-family="Liberation Serif, serif">0.15</text><text x="472.35" y="306.10" text-anchor="middle" font-size="7.9" fill="#1a1a1a" font-family="Liberation Serif, serif">0.2</text><text x="507.88" y="306.10" text-anchor="middle" font-size="7.9" fill="#1a1a1a" font-family="Liberation Serif, serif">0.25</text><text x="543.40" y="306.10" text-anchor="middle" font-size="7.9" fill="#1a1a1a" font-family="Liberation Serif, serif">0.3</text><text x="399.00" y="298.90" text-anchor="end" font-size="7.9" fill="#1a1a1a" font-family="Liberation Serif, serif">5</text><text x="399.00" y="277.62" text-anchor="end" font-size="7.9" fill="#1a1a1a" font-family="Liberation Serif, serif">10</text><text x="399.00" y="256.33" text-anchor="end" font-size="7.9" fill="#1a1a1a" font-family="Liberation Serif, serif">15</text><text x="399.00" y="235.05" text-anchor="end" font-size="7.9" fill="#1a1a1a" font-family="Liberation Serif, serif">20</text><text x="399.00" y="213.77" text-anchor="end" font-size="7.9" fill="#1a1a1a" font-family="Liberation Serif, serif">25</text><text x="399.00" y="192.48" text-anchor="end" font-size="7.9" fill="#1a1a1a" font-family="Liberation Serif, serif">30</text><text x="399.00" y="171.20" text-anchor="end" font-size="7.9" fill="#1a1a1a" font-family="Liberation Serif, serif">35</text><text x="472.35" y="315.20" text-anchor="middle" font-size="7.9" fill="#1a1a1a" font-family="Liberation Serif, serif">Percentage of Selected Features</text><text x="466.50" y="324.80" text-anchor="middle" font-size="7.9" font-weight="bold" fill="#000" style="stroke-width:0.08px" font-family="Liberation Serif, serif">(f) YaleB</text><text transform="translate(388.30,231.45) rotate(-90)" text-anchor="middle" font-size="7.9" fill="#1a1a1a" font-family="Liberation Serif, serif">ACC (%)</text></g><rect x="88.6" y="328.4" width="380.4" height="10.800000000000011" fill="#fff" stroke="#000" stroke-width="1"/><path d="M91.20,333.7h5.4M112.10,333.7h5.4" stroke="#ff8200" stroke-width="1.55"/><path d="M107.45,333.70L102.25,330.90L102.25,336.50Z" fill="#fff" stroke="#ff8200" stroke-width="1.45"/><text x="120.10" y="336.60" font-size="7.4" fill="#000" font-family="Liberation Serif, serif">ACSL</text><path d="M143.30,333.7h5.4M164.20,333.7h5.4" stroke="#a020f0" stroke-width="1.55"/><path d="M156.45,330.70L159.20,335.80L153.70,335.80Z" fill="#fff" stroke="#a020f0" stroke-width="1.45" stroke-linejoin="miter"/><text x="171.00" y="336.60" font-size="7.4" fill="#000" font-family="Liberation Serif, serif">AMFS</text><path d="M196.50,333.7h5.4M217.40,333.7h5.4" stroke="#edb000" stroke-width="1.55"/><path d="M207.65,332.10L211.65,335.30M207.65,335.30L211.65,332.10M207.45,333.70L211.85,333.70" stroke="#edb000" stroke-width="1.1" fill="none"/><text x="225.00" y="336.60" font-size="7.4" fill="#000" font-family="Liberation Serif, serif">ASVW</text><line x1="252.30" y1="333.7" x2="278.60" y2="333.7" stroke="#9a4a18" stroke-width="1.55"/><path d="M265.45,330.00L266.33,332.49L268.97,332.56L266.88,334.16L267.62,336.69L265.45,335.20L263.28,336.69L264.02,334.16L261.93,332.56L264.57,332.49Z" fill="#8e4416" stroke="#8e4416" stroke-width="0.6"/><text x="280.00" y="336.60" font-size="7.4" fill="#000" font-family="Liberation Serif, serif">RMVFS</text><line x1="310.10" y1="333.7" x2="336.40" y2="333.7" stroke="#0a8a0a" stroke-width="1.55"/><circle cx="323.25" cy="333.70" r="2.1" fill="#fff" stroke="#0a8a0a" stroke-width="1.45"/><text x="338.60" y="336.60" font-size="7.4" fill="#000" font-family="Liberation Serif, serif">JMVFG</text><line x1="368.00" y1="333.7" x2="394.30" y2="333.7" stroke="#0000ff" stroke-width="1.55"/><path d="M381.15,330.50L383.55,333.70L381.15,336.90L378.75,333.70Z" fill="#fff" stroke="#0000ff" stroke-width="1.45"/><text x="395.80" y="336.60" font-size="7.4" fill="#000" font-family="Liberation Serif, serif">AllFea</text><line x1="421.80" y1="333.7" x2="448.10" y2="333.7" stroke="#ff0000" stroke-width="1.55"/><rect x="432.95" y="331.70" width="4.00" height="4.00" fill="#fff" stroke="#ff0000" stroke-width="1.45"/><text x="449.40" y="336.60" font-size="7.4" fill="#000" font-family="Liberation Serif, serif">PCFS</text></svg></div></body></html>
